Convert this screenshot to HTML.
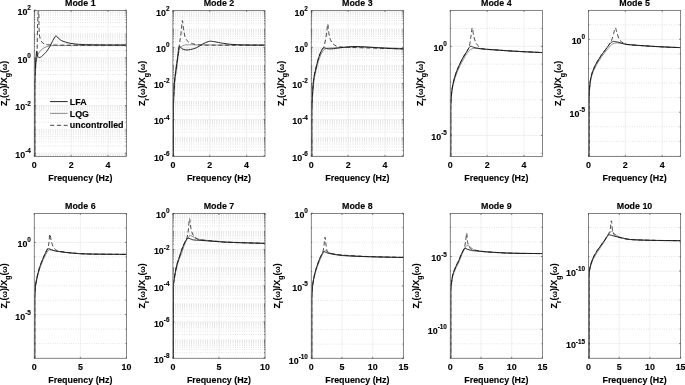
<!DOCTYPE html><html><head><meta charset="utf-8"><style>html,body{margin:0;padding:0;background:#fff;overflow:hidden;width:685px;height:385px;}svg{display:block;}text{font-family:"Liberation Sans", Arial, Helvetica, sans-serif;font-weight:bold;fill:#000;stroke:#000;stroke-width:0.12px;}</style></head><body>
<svg width="685" height="385" viewBox="0 0 685 385">
<rect width="685" height="385" fill="#fff"/>
<defs>
<clipPath id="c1"><rect x="34.30" y="10.40" width="92.10" height="146.00"/></clipPath>
<clipPath id="c2"><rect x="172.90" y="10.40" width="92.10" height="146.00"/></clipPath>
<clipPath id="c3"><rect x="311.30" y="10.40" width="92.10" height="146.00"/></clipPath>
<clipPath id="c4"><rect x="450.30" y="10.40" width="92.10" height="146.00"/></clipPath>
<clipPath id="c5"><rect x="588.50" y="10.40" width="92.10" height="146.00"/></clipPath>
<clipPath id="c6"><rect x="34.30" y="213.50" width="92.10" height="144.80"/></clipPath>
<clipPath id="c7"><rect x="172.90" y="213.50" width="92.10" height="144.80"/></clipPath>
<clipPath id="c8"><rect x="311.30" y="213.50" width="92.10" height="144.80"/></clipPath>
<clipPath id="c9"><rect x="450.30" y="213.50" width="92.10" height="144.80"/></clipPath>
<clipPath id="c10"><rect x="588.50" y="213.50" width="92.10" height="144.80"/></clipPath>
</defs>
<g><line x1="34.30" x2="126.40" y1="155.51" y2="155.51" stroke="#a8a8a8" stroke-width="0.5" stroke-dasharray="0.6,1.7"/><line x1="34.30" x2="126.40" y1="154.29" y2="154.29" stroke="#a8a8a8" stroke-width="0.5" stroke-dasharray="0.6,1.7"/><line x1="34.30" x2="126.40" y1="146.02" y2="146.02" stroke="#a8a8a8" stroke-width="0.5" stroke-dasharray="0.6,1.7"/><line x1="34.30" x2="126.40" y1="141.82" y2="141.82" stroke="#a8a8a8" stroke-width="0.5" stroke-dasharray="0.6,1.7"/><line x1="34.30" x2="126.40" y1="138.84" y2="138.84" stroke="#a8a8a8" stroke-width="0.5" stroke-dasharray="0.6,1.7"/><line x1="34.30" x2="126.40" y1="136.53" y2="136.53" stroke="#a8a8a8" stroke-width="0.5" stroke-dasharray="0.6,1.7"/><line x1="34.30" x2="126.40" y1="134.64" y2="134.64" stroke="#a8a8a8" stroke-width="0.5" stroke-dasharray="0.6,1.7"/><line x1="34.30" x2="126.40" y1="133.04" y2="133.04" stroke="#a8a8a8" stroke-width="0.5" stroke-dasharray="0.6,1.7"/><line x1="34.30" x2="126.40" y1="131.66" y2="131.66" stroke="#a8a8a8" stroke-width="0.5" stroke-dasharray="0.6,1.7"/><line x1="34.30" x2="126.40" y1="130.44" y2="130.44" stroke="#a8a8a8" stroke-width="0.5" stroke-dasharray="0.6,1.7"/><line x1="34.30" x2="126.40" y1="129.35" y2="129.35" stroke="#a8a8a8" stroke-width="0.5" stroke-dasharray="0.6,1.7"/><line x1="34.30" x2="126.40" y1="122.17" y2="122.17" stroke="#a8a8a8" stroke-width="0.5" stroke-dasharray="0.6,1.7"/><line x1="34.30" x2="126.40" y1="117.97" y2="117.97" stroke="#a8a8a8" stroke-width="0.5" stroke-dasharray="0.6,1.7"/><line x1="34.30" x2="126.40" y1="114.99" y2="114.99" stroke="#a8a8a8" stroke-width="0.5" stroke-dasharray="0.6,1.7"/><line x1="34.30" x2="126.40" y1="112.68" y2="112.68" stroke="#a8a8a8" stroke-width="0.5" stroke-dasharray="0.6,1.7"/><line x1="34.30" x2="126.40" y1="110.79" y2="110.79" stroke="#a8a8a8" stroke-width="0.5" stroke-dasharray="0.6,1.7"/><line x1="34.30" x2="126.40" y1="109.19" y2="109.19" stroke="#a8a8a8" stroke-width="0.5" stroke-dasharray="0.6,1.7"/><line x1="34.30" x2="126.40" y1="107.81" y2="107.81" stroke="#a8a8a8" stroke-width="0.5" stroke-dasharray="0.6,1.7"/><line x1="34.30" x2="126.40" y1="106.59" y2="106.59" stroke="#a8a8a8" stroke-width="0.5" stroke-dasharray="0.6,1.7"/><line x1="34.30" x2="126.40" y1="98.32" y2="98.32" stroke="#a8a8a8" stroke-width="0.5" stroke-dasharray="0.6,1.7"/><line x1="34.30" x2="126.40" y1="94.12" y2="94.12" stroke="#a8a8a8" stroke-width="0.5" stroke-dasharray="0.6,1.7"/><line x1="34.30" x2="126.40" y1="91.14" y2="91.14" stroke="#a8a8a8" stroke-width="0.5" stroke-dasharray="0.6,1.7"/><line x1="34.30" x2="126.40" y1="88.83" y2="88.83" stroke="#a8a8a8" stroke-width="0.5" stroke-dasharray="0.6,1.7"/><line x1="34.30" x2="126.40" y1="86.94" y2="86.94" stroke="#a8a8a8" stroke-width="0.5" stroke-dasharray="0.6,1.7"/><line x1="34.30" x2="126.40" y1="85.34" y2="85.34" stroke="#a8a8a8" stroke-width="0.5" stroke-dasharray="0.6,1.7"/><line x1="34.30" x2="126.40" y1="83.96" y2="83.96" stroke="#a8a8a8" stroke-width="0.5" stroke-dasharray="0.6,1.7"/><line x1="34.30" x2="126.40" y1="82.74" y2="82.74" stroke="#a8a8a8" stroke-width="0.5" stroke-dasharray="0.6,1.7"/><line x1="34.30" x2="126.40" y1="81.65" y2="81.65" stroke="#a8a8a8" stroke-width="0.5" stroke-dasharray="0.6,1.7"/><line x1="34.30" x2="126.40" y1="74.47" y2="74.47" stroke="#a8a8a8" stroke-width="0.5" stroke-dasharray="0.6,1.7"/><line x1="34.30" x2="126.40" y1="70.27" y2="70.27" stroke="#a8a8a8" stroke-width="0.5" stroke-dasharray="0.6,1.7"/><line x1="34.30" x2="126.40" y1="67.29" y2="67.29" stroke="#a8a8a8" stroke-width="0.5" stroke-dasharray="0.6,1.7"/><line x1="34.30" x2="126.40" y1="64.98" y2="64.98" stroke="#a8a8a8" stroke-width="0.5" stroke-dasharray="0.6,1.7"/><line x1="34.30" x2="126.40" y1="63.09" y2="63.09" stroke="#a8a8a8" stroke-width="0.5" stroke-dasharray="0.6,1.7"/><line x1="34.30" x2="126.40" y1="61.49" y2="61.49" stroke="#a8a8a8" stroke-width="0.5" stroke-dasharray="0.6,1.7"/><line x1="34.30" x2="126.40" y1="60.11" y2="60.11" stroke="#a8a8a8" stroke-width="0.5" stroke-dasharray="0.6,1.7"/><line x1="34.30" x2="126.40" y1="58.89" y2="58.89" stroke="#a8a8a8" stroke-width="0.5" stroke-dasharray="0.6,1.7"/><line x1="34.30" x2="126.40" y1="50.62" y2="50.62" stroke="#a8a8a8" stroke-width="0.5" stroke-dasharray="0.6,1.7"/><line x1="34.30" x2="126.40" y1="46.42" y2="46.42" stroke="#a8a8a8" stroke-width="0.5" stroke-dasharray="0.6,1.7"/><line x1="34.30" x2="126.40" y1="43.44" y2="43.44" stroke="#a8a8a8" stroke-width="0.5" stroke-dasharray="0.6,1.7"/><line x1="34.30" x2="126.40" y1="41.13" y2="41.13" stroke="#a8a8a8" stroke-width="0.5" stroke-dasharray="0.6,1.7"/><line x1="34.30" x2="126.40" y1="39.24" y2="39.24" stroke="#a8a8a8" stroke-width="0.5" stroke-dasharray="0.6,1.7"/><line x1="34.30" x2="126.40" y1="37.64" y2="37.64" stroke="#a8a8a8" stroke-width="0.5" stroke-dasharray="0.6,1.7"/><line x1="34.30" x2="126.40" y1="36.26" y2="36.26" stroke="#a8a8a8" stroke-width="0.5" stroke-dasharray="0.6,1.7"/><line x1="34.30" x2="126.40" y1="35.04" y2="35.04" stroke="#a8a8a8" stroke-width="0.5" stroke-dasharray="0.6,1.7"/><line x1="34.30" x2="126.40" y1="33.95" y2="33.95" stroke="#a8a8a8" stroke-width="0.5" stroke-dasharray="0.6,1.7"/><line x1="34.30" x2="126.40" y1="26.77" y2="26.77" stroke="#a8a8a8" stroke-width="0.5" stroke-dasharray="0.6,1.7"/><line x1="34.30" x2="126.40" y1="22.57" y2="22.57" stroke="#a8a8a8" stroke-width="0.5" stroke-dasharray="0.6,1.7"/><line x1="34.30" x2="126.40" y1="19.59" y2="19.59" stroke="#a8a8a8" stroke-width="0.5" stroke-dasharray="0.6,1.7"/><line x1="34.30" x2="126.40" y1="17.28" y2="17.28" stroke="#a8a8a8" stroke-width="0.5" stroke-dasharray="0.6,1.7"/><line x1="34.30" x2="126.40" y1="15.39" y2="15.39" stroke="#a8a8a8" stroke-width="0.5" stroke-dasharray="0.6,1.7"/><line x1="34.30" x2="126.40" y1="13.79" y2="13.79" stroke="#a8a8a8" stroke-width="0.5" stroke-dasharray="0.6,1.7"/><line x1="34.30" x2="126.40" y1="12.41" y2="12.41" stroke="#a8a8a8" stroke-width="0.5" stroke-dasharray="0.6,1.7"/><line x1="34.30" x2="126.40" y1="11.19" y2="11.19" stroke="#a8a8a8" stroke-width="0.5" stroke-dasharray="0.6,1.7"/><line x1="34.30" x2="126.40" y1="153.20" y2="153.20" stroke="#e6e6e6" stroke-width="0.6"/><line x1="34.30" x2="126.40" y1="105.50" y2="105.50" stroke="#e6e6e6" stroke-width="0.6"/><line x1="34.30" x2="126.40" y1="57.80" y2="57.80" stroke="#e6e6e6" stroke-width="0.6"/><line x1="71.14" x2="71.14" y1="10.40" y2="156.40" stroke="#e6e6e6" stroke-width="0.6"/><line x1="107.98" x2="107.98" y1="10.40" y2="156.40" stroke="#e6e6e6" stroke-width="0.6"/></g>
<g clip-path="url(#c1)"><path d="M34.75,157.40 C34.75,157.17 34.75,157.23 34.75,156.00 C34.75,154.77 34.75,152.00 34.75,150.00 C34.75,148.00 34.75,146.00 34.75,144.00 C34.75,142.00 34.75,140.00 34.75,138.00 C34.75,136.00 34.75,134.00 34.75,132.00 C34.75,130.00 34.75,128.00 34.75,126.00 C34.75,124.00 34.75,122.00 34.75,120.00 C34.75,118.00 34.75,116.00 34.75,114.00 C34.75,112.00 34.75,110.00 34.75,108.00 C34.75,106.00 34.75,104.00 34.75,102.00 C34.75,100.00 34.75,98.00 34.75,96.00 C34.75,94.00 34.73,92.00 34.75,90.00 C34.77,88.00 34.80,86.00 34.85,84.00 C34.90,82.00 34.99,80.00 35.08,78.00 C35.17,76.00 35.27,74.00 35.40,72.00 C35.53,70.00 35.67,68.00 35.86,66.00 C36.04,64.00 36.28,61.50 36.50,60.00 C36.72,58.50 36.92,57.98 37.20,57.00 C37.48,56.02 37.62,55.20 38.20,54.10 C38.78,53.00 39.73,51.43 40.70,50.40 C41.67,49.37 42.90,48.53 44.00,47.90 C45.10,47.27 46.20,46.95 47.30,46.60 C48.40,46.25 49.35,46.00 50.60,45.80 C51.85,45.60 51.57,45.47 54.80,45.40 C58.03,45.33 58.07,45.40 70.00,45.40 C81.93,45.40 117.00,45.40 126.40,45.40" fill="none" stroke="#6a6a6a" stroke-width="0.75"/><path d="M34.75,157.40 C34.75,157.00 34.75,156.57 34.75,155.00 C34.75,153.43 34.75,150.33 34.75,148.00 C34.75,145.67 34.75,143.33 34.75,141.00 C34.75,138.67 34.75,136.33 34.75,134.00 C34.75,131.67 34.75,129.33 34.75,127.00 C34.75,124.67 34.75,122.33 34.75,120.00 C34.75,117.67 34.75,115.33 34.75,113.00 C34.75,110.67 34.75,108.33 34.75,106.00 C34.75,103.67 34.75,101.33 34.75,99.00 C34.75,96.67 34.74,94.33 34.75,92.00 C34.76,89.67 34.75,87.33 34.79,85.00 C34.84,82.67 34.92,80.33 35.00,78.00 C35.08,75.67 35.17,73.33 35.29,71.00 C35.41,68.67 35.54,66.33 35.70,64.00 C35.86,61.67 36.05,59.33 36.28,57.00 C36.51,54.67 36.93,52.83 37.10,50.00 C37.27,47.17 37.22,44.17 37.30,40.00 C37.38,35.83 37.48,29.33 37.60,25.00 C37.72,20.67 37.87,16.33 38.00,14.00 C38.13,11.67 38.27,11.00 38.40,11.00 C38.53,11.00 38.70,11.67 38.80,14.00 C38.90,16.33 38.92,21.67 39.00,25.00 C39.08,28.33 39.05,31.58 39.30,34.00 C39.55,36.42 40.00,38.08 40.50,39.50 C41.00,40.92 41.58,41.73 42.30,42.50 C43.02,43.27 43.90,43.72 44.80,44.10 C45.70,44.48 46.03,44.65 47.70,44.80 C49.37,44.95 52.08,44.93 54.80,45.00 C57.52,45.07 52.07,45.18 64.00,45.20 C75.93,45.22 116.00,45.12 126.40,45.10" fill="none" stroke="#262626" stroke-width="0.85" stroke-dasharray="4.2,2.6"/><path d="M34.75,157.40 C34.75,156.83 34.75,155.57 34.75,154.00 C34.75,152.43 34.75,150.00 34.75,148.00 C34.75,146.00 34.75,144.00 34.75,142.00 C34.75,140.00 34.75,138.00 34.75,136.00 C34.75,134.00 34.75,132.00 34.75,130.00 C34.75,128.00 34.75,126.00 34.75,124.00 C34.75,122.00 34.75,120.00 34.75,118.00 C34.75,116.00 34.75,114.00 34.75,112.00 C34.75,110.00 34.75,108.00 34.75,106.00 C34.75,104.00 34.75,102.00 34.75,100.00 C34.75,98.00 34.75,96.00 34.75,94.00 C34.75,92.00 34.75,90.00 34.75,88.00 C34.75,86.00 34.72,84.00 34.75,82.00 C34.78,80.00 34.83,78.00 34.90,76.00 C34.97,74.00 35.05,72.00 35.15,70.00 C35.25,68.00 35.36,66.00 35.50,64.00 C35.64,62.00 35.85,59.83 36.00,58.00 C36.15,56.17 36.27,54.17 36.40,53.00 C36.53,51.83 36.67,51.00 36.80,51.00 C36.93,51.00 37.05,52.08 37.20,53.00 C37.35,53.92 37.40,55.77 37.70,56.50 C38.00,57.23 38.53,57.27 39.00,57.40 C39.47,57.53 39.95,57.57 40.50,57.30 C41.05,57.03 41.63,56.38 42.30,55.80 C42.97,55.22 43.80,54.50 44.50,53.80 C45.20,53.10 45.62,52.80 46.50,51.60 C47.38,50.40 48.83,48.27 49.80,46.60 C50.77,44.93 51.47,43.18 52.30,41.60 C53.13,40.02 54.22,38.03 54.80,37.10 C55.38,36.17 55.47,36.12 55.80,36.00 C56.13,35.88 56.42,36.08 56.80,36.40 C57.18,36.72 57.47,37.30 58.10,37.90 C58.73,38.50 59.62,39.38 60.60,40.00 C61.58,40.62 62.28,41.03 64.00,41.60 C65.72,42.17 67.93,42.92 70.90,43.40 C73.87,43.88 76.95,44.25 81.80,44.50 C86.65,44.75 92.57,44.82 100.00,44.90 C107.43,44.98 122.00,44.98 126.40,45.00" fill="none" stroke="#1a1a1a" stroke-width="0.95"/></g>
<rect x="34.30" y="10.40" width="92.10" height="146.00" stroke="#6e6e6e" stroke-width="0.85" fill="none"/>
<path d="M34.30,156.40v-1.50 M34.30,10.40v1.50 M71.14,156.40v-1.50 M71.14,10.40v1.50 M107.98,156.40v-1.50 M107.98,10.40v1.50 M34.30,153.20h1.50 M126.40,153.20h-1.50 M34.30,105.50h1.50 M126.40,105.50h-1.50 M34.30,57.80h1.50 M126.40,57.80h-1.50 M34.30,10.10h1.50 M126.40,10.10h-1.50 M34.30,155.51h0.90 M126.40,155.51h-0.90 M34.30,154.29h0.90 M126.40,154.29h-0.90 M34.30,146.02h0.90 M126.40,146.02h-0.90 M34.30,141.82h0.90 M126.40,141.82h-0.90 M34.30,138.84h0.90 M126.40,138.84h-0.90 M34.30,136.53h0.90 M126.40,136.53h-0.90 M34.30,134.64h0.90 M126.40,134.64h-0.90 M34.30,133.04h0.90 M126.40,133.04h-0.90 M34.30,131.66h0.90 M126.40,131.66h-0.90 M34.30,130.44h0.90 M126.40,130.44h-0.90 M34.30,129.35h0.90 M126.40,129.35h-0.90 M34.30,122.17h0.90 M126.40,122.17h-0.90 M34.30,117.97h0.90 M126.40,117.97h-0.90 M34.30,114.99h0.90 M126.40,114.99h-0.90 M34.30,112.68h0.90 M126.40,112.68h-0.90 M34.30,110.79h0.90 M126.40,110.79h-0.90 M34.30,109.19h0.90 M126.40,109.19h-0.90 M34.30,107.81h0.90 M126.40,107.81h-0.90 M34.30,106.59h0.90 M126.40,106.59h-0.90 M34.30,98.32h0.90 M126.40,98.32h-0.90 M34.30,94.12h0.90 M126.40,94.12h-0.90 M34.30,91.14h0.90 M126.40,91.14h-0.90 M34.30,88.83h0.90 M126.40,88.83h-0.90 M34.30,86.94h0.90 M126.40,86.94h-0.90 M34.30,85.34h0.90 M126.40,85.34h-0.90 M34.30,83.96h0.90 M126.40,83.96h-0.90 M34.30,82.74h0.90 M126.40,82.74h-0.90 M34.30,81.65h0.90 M126.40,81.65h-0.90 M34.30,74.47h0.90 M126.40,74.47h-0.90 M34.30,70.27h0.90 M126.40,70.27h-0.90 M34.30,67.29h0.90 M126.40,67.29h-0.90 M34.30,64.98h0.90 M126.40,64.98h-0.90 M34.30,63.09h0.90 M126.40,63.09h-0.90 M34.30,61.49h0.90 M126.40,61.49h-0.90 M34.30,60.11h0.90 M126.40,60.11h-0.90 M34.30,58.89h0.90 M126.40,58.89h-0.90 M34.30,50.62h0.90 M126.40,50.62h-0.90 M34.30,46.42h0.90 M126.40,46.42h-0.90 M34.30,43.44h0.90 M126.40,43.44h-0.90 M34.30,41.13h0.90 M126.40,41.13h-0.90 M34.30,39.24h0.90 M126.40,39.24h-0.90 M34.30,37.64h0.90 M126.40,37.64h-0.90 M34.30,36.26h0.90 M126.40,36.26h-0.90 M34.30,35.04h0.90 M126.40,35.04h-0.90 M34.30,33.95h0.90 M126.40,33.95h-0.90 M34.30,26.77h0.90 M126.40,26.77h-0.90 M34.30,22.57h0.90 M126.40,22.57h-0.90 M34.30,19.59h0.90 M126.40,19.59h-0.90 M34.30,17.28h0.90 M126.40,17.28h-0.90 M34.30,15.39h0.90 M126.40,15.39h-0.90 M34.30,13.79h0.90 M126.40,13.79h-0.90 M34.30,12.41h0.90 M126.40,12.41h-0.90 M34.30,11.19h0.90 M126.40,11.19h-0.90" stroke="#333" stroke-width="0.6" fill="none"/>
<text x="34.30" y="168.35" text-anchor="middle" font-size="8.90">0</text>
<text x="71.14" y="168.35" text-anchor="middle" font-size="8.90">2</text>
<text x="107.98" y="168.35" text-anchor="middle" font-size="8.90">4</text>
<text x="30.90" y="158.05" text-anchor="end" font-size="8.90">10<tspan font-size="6.40" dy="-4.8">-4</tspan></text>
<text x="30.90" y="110.35" text-anchor="end" font-size="8.90">10<tspan font-size="6.40" dy="-4.8">-2</tspan></text>
<text x="30.90" y="62.65" text-anchor="end" font-size="8.90">10<tspan font-size="6.40" dy="-4.8">0</tspan></text>
<text x="30.90" y="14.95" text-anchor="end" font-size="8.90">10<tspan font-size="6.40" dy="-4.8">2</tspan></text>
<text x="80.35" y="6.10" text-anchor="middle" font-size="8.90">Mode 1</text>
<text x="80.35" y="180.90" text-anchor="middle" font-size="8.90">Frequency (Hz)</text>
<text transform="translate(6.80,83.40) rotate(-90)" text-anchor="middle" font-size="8.90">Z<tspan font-size="6.80" dy="3.6">r</tspan><tspan dy="-3.6">(</tspan><tspan font-size="7.6">ω</tspan>)/X<tspan font-size="6.80" dy="3.6">g</tspan><tspan dy="-3.6">(</tspan><tspan font-size="7.6">ω</tspan>)</text>
<g><line x1="172.90" x2="265.00" y1="150.28" y2="150.28" stroke="#a8a8a8" stroke-width="0.5" stroke-dasharray="0.6,1.7"/><line x1="172.90" x2="265.00" y1="147.10" y2="147.10" stroke="#a8a8a8" stroke-width="0.5" stroke-dasharray="0.6,1.7"/><line x1="172.90" x2="265.00" y1="144.84" y2="144.84" stroke="#a8a8a8" stroke-width="0.5" stroke-dasharray="0.6,1.7"/><line x1="172.90" x2="265.00" y1="143.09" y2="143.09" stroke="#a8a8a8" stroke-width="0.5" stroke-dasharray="0.6,1.7"/><line x1="172.90" x2="265.00" y1="141.66" y2="141.66" stroke="#a8a8a8" stroke-width="0.5" stroke-dasharray="0.6,1.7"/><line x1="172.90" x2="265.00" y1="140.45" y2="140.45" stroke="#a8a8a8" stroke-width="0.5" stroke-dasharray="0.6,1.7"/><line x1="172.90" x2="265.00" y1="139.40" y2="139.40" stroke="#a8a8a8" stroke-width="0.5" stroke-dasharray="0.6,1.7"/><line x1="172.90" x2="265.00" y1="138.48" y2="138.48" stroke="#a8a8a8" stroke-width="0.5" stroke-dasharray="0.6,1.7"/><line x1="172.90" x2="265.00" y1="137.65" y2="137.65" stroke="#a8a8a8" stroke-width="0.5" stroke-dasharray="0.6,1.7"/><line x1="172.90" x2="265.00" y1="132.21" y2="132.21" stroke="#a8a8a8" stroke-width="0.5" stroke-dasharray="0.6,1.7"/><line x1="172.90" x2="265.00" y1="129.03" y2="129.03" stroke="#a8a8a8" stroke-width="0.5" stroke-dasharray="0.6,1.7"/><line x1="172.90" x2="265.00" y1="126.77" y2="126.77" stroke="#a8a8a8" stroke-width="0.5" stroke-dasharray="0.6,1.7"/><line x1="172.90" x2="265.00" y1="125.02" y2="125.02" stroke="#a8a8a8" stroke-width="0.5" stroke-dasharray="0.6,1.7"/><line x1="172.90" x2="265.00" y1="123.59" y2="123.59" stroke="#a8a8a8" stroke-width="0.5" stroke-dasharray="0.6,1.7"/><line x1="172.90" x2="265.00" y1="122.38" y2="122.38" stroke="#a8a8a8" stroke-width="0.5" stroke-dasharray="0.6,1.7"/><line x1="172.90" x2="265.00" y1="121.33" y2="121.33" stroke="#a8a8a8" stroke-width="0.5" stroke-dasharray="0.6,1.7"/><line x1="172.90" x2="265.00" y1="120.41" y2="120.41" stroke="#a8a8a8" stroke-width="0.5" stroke-dasharray="0.6,1.7"/><line x1="172.90" x2="265.00" y1="114.14" y2="114.14" stroke="#a8a8a8" stroke-width="0.5" stroke-dasharray="0.6,1.7"/><line x1="172.90" x2="265.00" y1="110.96" y2="110.96" stroke="#a8a8a8" stroke-width="0.5" stroke-dasharray="0.6,1.7"/><line x1="172.90" x2="265.00" y1="108.70" y2="108.70" stroke="#a8a8a8" stroke-width="0.5" stroke-dasharray="0.6,1.7"/><line x1="172.90" x2="265.00" y1="106.95" y2="106.95" stroke="#a8a8a8" stroke-width="0.5" stroke-dasharray="0.6,1.7"/><line x1="172.90" x2="265.00" y1="105.52" y2="105.52" stroke="#a8a8a8" stroke-width="0.5" stroke-dasharray="0.6,1.7"/><line x1="172.90" x2="265.00" y1="104.31" y2="104.31" stroke="#a8a8a8" stroke-width="0.5" stroke-dasharray="0.6,1.7"/><line x1="172.90" x2="265.00" y1="103.26" y2="103.26" stroke="#a8a8a8" stroke-width="0.5" stroke-dasharray="0.6,1.7"/><line x1="172.90" x2="265.00" y1="102.34" y2="102.34" stroke="#a8a8a8" stroke-width="0.5" stroke-dasharray="0.6,1.7"/><line x1="172.90" x2="265.00" y1="101.51" y2="101.51" stroke="#a8a8a8" stroke-width="0.5" stroke-dasharray="0.6,1.7"/><line x1="172.90" x2="265.00" y1="96.07" y2="96.07" stroke="#a8a8a8" stroke-width="0.5" stroke-dasharray="0.6,1.7"/><line x1="172.90" x2="265.00" y1="92.89" y2="92.89" stroke="#a8a8a8" stroke-width="0.5" stroke-dasharray="0.6,1.7"/><line x1="172.90" x2="265.00" y1="90.63" y2="90.63" stroke="#a8a8a8" stroke-width="0.5" stroke-dasharray="0.6,1.7"/><line x1="172.90" x2="265.00" y1="88.88" y2="88.88" stroke="#a8a8a8" stroke-width="0.5" stroke-dasharray="0.6,1.7"/><line x1="172.90" x2="265.00" y1="87.45" y2="87.45" stroke="#a8a8a8" stroke-width="0.5" stroke-dasharray="0.6,1.7"/><line x1="172.90" x2="265.00" y1="86.24" y2="86.24" stroke="#a8a8a8" stroke-width="0.5" stroke-dasharray="0.6,1.7"/><line x1="172.90" x2="265.00" y1="85.19" y2="85.19" stroke="#a8a8a8" stroke-width="0.5" stroke-dasharray="0.6,1.7"/><line x1="172.90" x2="265.00" y1="84.27" y2="84.27" stroke="#a8a8a8" stroke-width="0.5" stroke-dasharray="0.6,1.7"/><line x1="172.90" x2="265.00" y1="78.00" y2="78.00" stroke="#a8a8a8" stroke-width="0.5" stroke-dasharray="0.6,1.7"/><line x1="172.90" x2="265.00" y1="74.82" y2="74.82" stroke="#a8a8a8" stroke-width="0.5" stroke-dasharray="0.6,1.7"/><line x1="172.90" x2="265.00" y1="72.56" y2="72.56" stroke="#a8a8a8" stroke-width="0.5" stroke-dasharray="0.6,1.7"/><line x1="172.90" x2="265.00" y1="70.81" y2="70.81" stroke="#a8a8a8" stroke-width="0.5" stroke-dasharray="0.6,1.7"/><line x1="172.90" x2="265.00" y1="69.38" y2="69.38" stroke="#a8a8a8" stroke-width="0.5" stroke-dasharray="0.6,1.7"/><line x1="172.90" x2="265.00" y1="68.17" y2="68.17" stroke="#a8a8a8" stroke-width="0.5" stroke-dasharray="0.6,1.7"/><line x1="172.90" x2="265.00" y1="67.12" y2="67.12" stroke="#a8a8a8" stroke-width="0.5" stroke-dasharray="0.6,1.7"/><line x1="172.90" x2="265.00" y1="66.20" y2="66.20" stroke="#a8a8a8" stroke-width="0.5" stroke-dasharray="0.6,1.7"/><line x1="172.90" x2="265.00" y1="65.37" y2="65.37" stroke="#a8a8a8" stroke-width="0.5" stroke-dasharray="0.6,1.7"/><line x1="172.90" x2="265.00" y1="59.93" y2="59.93" stroke="#a8a8a8" stroke-width="0.5" stroke-dasharray="0.6,1.7"/><line x1="172.90" x2="265.00" y1="56.75" y2="56.75" stroke="#a8a8a8" stroke-width="0.5" stroke-dasharray="0.6,1.7"/><line x1="172.90" x2="265.00" y1="54.49" y2="54.49" stroke="#a8a8a8" stroke-width="0.5" stroke-dasharray="0.6,1.7"/><line x1="172.90" x2="265.00" y1="52.74" y2="52.74" stroke="#a8a8a8" stroke-width="0.5" stroke-dasharray="0.6,1.7"/><line x1="172.90" x2="265.00" y1="51.31" y2="51.31" stroke="#a8a8a8" stroke-width="0.5" stroke-dasharray="0.6,1.7"/><line x1="172.90" x2="265.00" y1="50.10" y2="50.10" stroke="#a8a8a8" stroke-width="0.5" stroke-dasharray="0.6,1.7"/><line x1="172.90" x2="265.00" y1="49.05" y2="49.05" stroke="#a8a8a8" stroke-width="0.5" stroke-dasharray="0.6,1.7"/><line x1="172.90" x2="265.00" y1="48.13" y2="48.13" stroke="#a8a8a8" stroke-width="0.5" stroke-dasharray="0.6,1.7"/><line x1="172.90" x2="265.00" y1="41.86" y2="41.86" stroke="#a8a8a8" stroke-width="0.5" stroke-dasharray="0.6,1.7"/><line x1="172.90" x2="265.00" y1="38.68" y2="38.68" stroke="#a8a8a8" stroke-width="0.5" stroke-dasharray="0.6,1.7"/><line x1="172.90" x2="265.00" y1="36.42" y2="36.42" stroke="#a8a8a8" stroke-width="0.5" stroke-dasharray="0.6,1.7"/><line x1="172.90" x2="265.00" y1="34.67" y2="34.67" stroke="#a8a8a8" stroke-width="0.5" stroke-dasharray="0.6,1.7"/><line x1="172.90" x2="265.00" y1="33.24" y2="33.24" stroke="#a8a8a8" stroke-width="0.5" stroke-dasharray="0.6,1.7"/><line x1="172.90" x2="265.00" y1="32.03" y2="32.03" stroke="#a8a8a8" stroke-width="0.5" stroke-dasharray="0.6,1.7"/><line x1="172.90" x2="265.00" y1="30.98" y2="30.98" stroke="#a8a8a8" stroke-width="0.5" stroke-dasharray="0.6,1.7"/><line x1="172.90" x2="265.00" y1="30.06" y2="30.06" stroke="#a8a8a8" stroke-width="0.5" stroke-dasharray="0.6,1.7"/><line x1="172.90" x2="265.00" y1="29.23" y2="29.23" stroke="#a8a8a8" stroke-width="0.5" stroke-dasharray="0.6,1.7"/><line x1="172.90" x2="265.00" y1="23.79" y2="23.79" stroke="#a8a8a8" stroke-width="0.5" stroke-dasharray="0.6,1.7"/><line x1="172.90" x2="265.00" y1="20.61" y2="20.61" stroke="#a8a8a8" stroke-width="0.5" stroke-dasharray="0.6,1.7"/><line x1="172.90" x2="265.00" y1="18.35" y2="18.35" stroke="#a8a8a8" stroke-width="0.5" stroke-dasharray="0.6,1.7"/><line x1="172.90" x2="265.00" y1="16.60" y2="16.60" stroke="#a8a8a8" stroke-width="0.5" stroke-dasharray="0.6,1.7"/><line x1="172.90" x2="265.00" y1="15.17" y2="15.17" stroke="#a8a8a8" stroke-width="0.5" stroke-dasharray="0.6,1.7"/><line x1="172.90" x2="265.00" y1="13.96" y2="13.96" stroke="#a8a8a8" stroke-width="0.5" stroke-dasharray="0.6,1.7"/><line x1="172.90" x2="265.00" y1="12.91" y2="12.91" stroke="#a8a8a8" stroke-width="0.5" stroke-dasharray="0.6,1.7"/><line x1="172.90" x2="265.00" y1="11.99" y2="11.99" stroke="#a8a8a8" stroke-width="0.5" stroke-dasharray="0.6,1.7"/><line x1="172.90" x2="265.00" y1="155.72" y2="155.72" stroke="#e6e6e6" stroke-width="0.6"/><line x1="172.90" x2="265.00" y1="119.58" y2="119.58" stroke="#e6e6e6" stroke-width="0.6"/><line x1="172.90" x2="265.00" y1="83.44" y2="83.44" stroke="#e6e6e6" stroke-width="0.6"/><line x1="172.90" x2="265.00" y1="47.30" y2="47.30" stroke="#e6e6e6" stroke-width="0.6"/><line x1="172.90" x2="265.00" y1="11.16" y2="11.16" stroke="#e6e6e6" stroke-width="0.6"/><line x1="209.74" x2="209.74" y1="10.40" y2="156.40" stroke="#e6e6e6" stroke-width="0.6"/><line x1="246.58" x2="246.58" y1="10.40" y2="156.40" stroke="#e6e6e6" stroke-width="0.6"/></g>
<g clip-path="url(#c2)"><path d="M173.35,157.40 C173.35,156.17 173.35,152.40 173.35,150.00 C173.35,147.60 173.35,145.33 173.35,143.00 C173.35,140.67 173.35,138.33 173.35,136.00 C173.35,133.67 173.35,131.33 173.35,129.00 C173.35,126.67 173.35,124.33 173.35,122.00 C173.35,119.67 173.34,117.33 173.35,115.00 C173.36,112.67 173.38,110.33 173.43,108.00 C173.47,105.67 173.55,103.33 173.64,101.00 C173.73,98.67 173.83,96.33 173.95,94.00 C174.07,91.67 174.21,89.33 174.38,87.00 C174.56,84.67 174.61,83.17 175.00,80.00 C175.39,76.83 176.20,71.83 176.70,68.00 C177.20,64.17 177.52,60.25 178.00,57.00 C178.48,53.75 179.02,50.25 179.60,48.50 C180.18,46.75 180.82,47.02 181.50,46.50 C182.18,45.98 182.75,45.68 183.70,45.40 C184.65,45.12 184.48,44.88 187.20,44.80 C189.92,44.72 194.20,44.85 200.00,44.90 C205.80,44.95 211.08,45.05 222.00,45.10 C232.92,45.15 258.25,45.18 265.50,45.20" fill="none" stroke="#6a6a6a" stroke-width="0.75"/><path d="M173.35,157.40 C173.35,157.00 173.35,156.57 173.35,155.00 C173.35,153.43 173.35,150.33 173.35,148.00 C173.35,145.67 173.35,143.33 173.35,141.00 C173.35,138.67 173.35,136.33 173.35,134.00 C173.35,131.67 173.35,129.33 173.35,127.00 C173.35,124.67 173.35,122.33 173.35,120.00 C173.35,117.67 173.34,115.33 173.35,113.00 C173.36,110.67 173.38,108.33 173.43,106.00 C173.47,103.67 173.55,101.33 173.64,99.00 C173.73,96.67 173.83,94.33 173.95,92.00 C174.07,89.67 174.21,87.33 174.38,85.00 C174.56,82.67 174.63,81.17 175.00,78.00 C175.37,74.83 176.07,69.83 176.60,66.00 C177.13,62.17 177.70,58.83 178.20,55.00 C178.70,51.17 179.17,46.27 179.60,43.00 C180.03,39.73 180.42,38.52 180.80,35.40 C181.18,32.28 181.62,26.73 181.90,24.30 C182.18,21.87 182.20,19.82 182.50,20.80 C182.80,21.78 183.22,27.37 183.70,30.20 C184.18,33.03 184.62,35.85 185.40,37.80 C186.18,39.75 187.23,40.93 188.40,41.90 C189.57,42.87 190.85,43.12 192.40,43.60 C193.95,44.08 195.27,44.55 197.70,44.80 C200.13,45.05 201.62,45.03 207.00,45.10 C212.38,45.17 220.25,45.18 230.00,45.20 C239.75,45.22 259.58,45.20 265.50,45.20" fill="none" stroke="#262626" stroke-width="0.85" stroke-dasharray="4.2,2.6"/><path d="M173.35,157.40 C173.35,157.17 173.35,157.40 173.35,156.00 C173.35,154.60 173.35,151.33 173.35,149.00 C173.35,146.67 173.35,144.33 173.35,142.00 C173.35,139.67 173.35,137.33 173.35,135.00 C173.35,132.67 173.35,130.33 173.35,128.00 C173.35,125.67 173.35,123.33 173.35,121.00 C173.35,118.67 173.35,116.33 173.35,114.00 C173.35,111.67 173.32,109.33 173.35,107.00 C173.38,104.67 173.46,102.33 173.54,100.00 C173.61,97.67 173.69,95.33 173.80,93.00 C173.91,90.67 174.02,88.33 174.17,86.00 C174.32,83.67 174.35,82.23 174.70,79.00 C175.05,75.77 175.78,70.50 176.30,66.60 C176.82,62.70 177.42,58.53 177.80,55.60 C178.18,52.67 178.37,50.55 178.60,49.00 C178.83,47.45 178.88,46.60 179.20,46.30 C179.52,46.00 179.95,46.77 180.50,47.20 C181.05,47.63 181.58,48.43 182.50,48.90 C183.42,49.37 184.63,49.90 186.00,50.00 C187.37,50.10 188.95,49.88 190.70,49.50 C192.45,49.12 194.55,48.58 196.50,47.70 C198.45,46.82 200.45,45.22 202.40,44.20 C204.35,43.18 206.65,42.08 208.20,41.60 C209.75,41.12 209.95,41.15 211.70,41.30 C213.45,41.45 216.48,42.12 218.70,42.50 C220.92,42.88 222.28,43.25 225.00,43.60 C227.72,43.95 230.83,44.37 235.00,44.60 C239.17,44.83 244.92,44.92 250.00,45.00 C255.08,45.08 262.92,45.08 265.50,45.10" fill="none" stroke="#1a1a1a" stroke-width="0.95"/></g>
<rect x="172.90" y="10.40" width="92.10" height="146.00" stroke="#6e6e6e" stroke-width="0.85" fill="none"/>
<path d="M172.90,156.40v-1.50 M172.90,10.40v1.50 M209.74,156.40v-1.50 M209.74,10.40v1.50 M246.58,156.40v-1.50 M246.58,10.40v1.50 M172.90,155.72h1.50 M265.00,155.72h-1.50 M172.90,119.58h1.50 M265.00,119.58h-1.50 M172.90,83.44h1.50 M265.00,83.44h-1.50 M172.90,47.30h1.50 M265.00,47.30h-1.50 M172.90,11.16h1.50 M265.00,11.16h-1.50 M172.90,150.28h0.90 M265.00,150.28h-0.90 M172.90,147.10h0.90 M265.00,147.10h-0.90 M172.90,144.84h0.90 M265.00,144.84h-0.90 M172.90,143.09h0.90 M265.00,143.09h-0.90 M172.90,141.66h0.90 M265.00,141.66h-0.90 M172.90,140.45h0.90 M265.00,140.45h-0.90 M172.90,139.40h0.90 M265.00,139.40h-0.90 M172.90,138.48h0.90 M265.00,138.48h-0.90 M172.90,137.65h0.90 M265.00,137.65h-0.90 M172.90,132.21h0.90 M265.00,132.21h-0.90 M172.90,129.03h0.90 M265.00,129.03h-0.90 M172.90,126.77h0.90 M265.00,126.77h-0.90 M172.90,125.02h0.90 M265.00,125.02h-0.90 M172.90,123.59h0.90 M265.00,123.59h-0.90 M172.90,122.38h0.90 M265.00,122.38h-0.90 M172.90,121.33h0.90 M265.00,121.33h-0.90 M172.90,120.41h0.90 M265.00,120.41h-0.90 M172.90,114.14h0.90 M265.00,114.14h-0.90 M172.90,110.96h0.90 M265.00,110.96h-0.90 M172.90,108.70h0.90 M265.00,108.70h-0.90 M172.90,106.95h0.90 M265.00,106.95h-0.90 M172.90,105.52h0.90 M265.00,105.52h-0.90 M172.90,104.31h0.90 M265.00,104.31h-0.90 M172.90,103.26h0.90 M265.00,103.26h-0.90 M172.90,102.34h0.90 M265.00,102.34h-0.90 M172.90,101.51h0.90 M265.00,101.51h-0.90 M172.90,96.07h0.90 M265.00,96.07h-0.90 M172.90,92.89h0.90 M265.00,92.89h-0.90 M172.90,90.63h0.90 M265.00,90.63h-0.90 M172.90,88.88h0.90 M265.00,88.88h-0.90 M172.90,87.45h0.90 M265.00,87.45h-0.90 M172.90,86.24h0.90 M265.00,86.24h-0.90 M172.90,85.19h0.90 M265.00,85.19h-0.90 M172.90,84.27h0.90 M265.00,84.27h-0.90 M172.90,78.00h0.90 M265.00,78.00h-0.90 M172.90,74.82h0.90 M265.00,74.82h-0.90 M172.90,72.56h0.90 M265.00,72.56h-0.90 M172.90,70.81h0.90 M265.00,70.81h-0.90 M172.90,69.38h0.90 M265.00,69.38h-0.90 M172.90,68.17h0.90 M265.00,68.17h-0.90 M172.90,67.12h0.90 M265.00,67.12h-0.90 M172.90,66.20h0.90 M265.00,66.20h-0.90 M172.90,65.37h0.90 M265.00,65.37h-0.90 M172.90,59.93h0.90 M265.00,59.93h-0.90 M172.90,56.75h0.90 M265.00,56.75h-0.90 M172.90,54.49h0.90 M265.00,54.49h-0.90 M172.90,52.74h0.90 M265.00,52.74h-0.90 M172.90,51.31h0.90 M265.00,51.31h-0.90 M172.90,50.10h0.90 M265.00,50.10h-0.90 M172.90,49.05h0.90 M265.00,49.05h-0.90 M172.90,48.13h0.90 M265.00,48.13h-0.90 M172.90,41.86h0.90 M265.00,41.86h-0.90 M172.90,38.68h0.90 M265.00,38.68h-0.90 M172.90,36.42h0.90 M265.00,36.42h-0.90 M172.90,34.67h0.90 M265.00,34.67h-0.90 M172.90,33.24h0.90 M265.00,33.24h-0.90 M172.90,32.03h0.90 M265.00,32.03h-0.90 M172.90,30.98h0.90 M265.00,30.98h-0.90 M172.90,30.06h0.90 M265.00,30.06h-0.90 M172.90,29.23h0.90 M265.00,29.23h-0.90 M172.90,23.79h0.90 M265.00,23.79h-0.90 M172.90,20.61h0.90 M265.00,20.61h-0.90 M172.90,18.35h0.90 M265.00,18.35h-0.90 M172.90,16.60h0.90 M265.00,16.60h-0.90 M172.90,15.17h0.90 M265.00,15.17h-0.90 M172.90,13.96h0.90 M265.00,13.96h-0.90 M172.90,12.91h0.90 M265.00,12.91h-0.90 M172.90,11.99h0.90 M265.00,11.99h-0.90" stroke="#333" stroke-width="0.6" fill="none"/>
<text x="172.90" y="168.35" text-anchor="middle" font-size="8.90">0</text>
<text x="209.74" y="168.35" text-anchor="middle" font-size="8.90">2</text>
<text x="246.58" y="168.35" text-anchor="middle" font-size="8.90">4</text>
<text x="169.50" y="160.57" text-anchor="end" font-size="8.90">10<tspan font-size="6.40" dy="-4.8">-6</tspan></text>
<text x="169.50" y="124.43" text-anchor="end" font-size="8.90">10<tspan font-size="6.40" dy="-4.8">-4</tspan></text>
<text x="169.50" y="88.29" text-anchor="end" font-size="8.90">10<tspan font-size="6.40" dy="-4.8">-2</tspan></text>
<text x="169.50" y="52.15" text-anchor="end" font-size="8.90">10<tspan font-size="6.40" dy="-4.8">0</tspan></text>
<text x="169.50" y="16.01" text-anchor="end" font-size="8.90">10<tspan font-size="6.40" dy="-4.8">2</tspan></text>
<text x="218.95" y="6.10" text-anchor="middle" font-size="8.90">Mode 2</text>
<text x="218.95" y="180.90" text-anchor="middle" font-size="8.90">Frequency (Hz)</text>
<text transform="translate(145.40,83.40) rotate(-90)" text-anchor="middle" font-size="8.90">Z<tspan font-size="6.80" dy="3.6">r</tspan><tspan dy="-3.6">(</tspan><tspan font-size="7.6">ω</tspan>)/X<tspan font-size="6.80" dy="3.6">g</tspan><tspan dy="-3.6">(</tspan><tspan font-size="7.6">ω</tspan>)</text>
<g><line x1="311.30" x2="403.40" y1="150.28" y2="150.28" stroke="#a8a8a8" stroke-width="0.5" stroke-dasharray="0.6,1.7"/><line x1="311.30" x2="403.40" y1="147.10" y2="147.10" stroke="#a8a8a8" stroke-width="0.5" stroke-dasharray="0.6,1.7"/><line x1="311.30" x2="403.40" y1="144.84" y2="144.84" stroke="#a8a8a8" stroke-width="0.5" stroke-dasharray="0.6,1.7"/><line x1="311.30" x2="403.40" y1="143.09" y2="143.09" stroke="#a8a8a8" stroke-width="0.5" stroke-dasharray="0.6,1.7"/><line x1="311.30" x2="403.40" y1="141.66" y2="141.66" stroke="#a8a8a8" stroke-width="0.5" stroke-dasharray="0.6,1.7"/><line x1="311.30" x2="403.40" y1="140.45" y2="140.45" stroke="#a8a8a8" stroke-width="0.5" stroke-dasharray="0.6,1.7"/><line x1="311.30" x2="403.40" y1="139.40" y2="139.40" stroke="#a8a8a8" stroke-width="0.5" stroke-dasharray="0.6,1.7"/><line x1="311.30" x2="403.40" y1="138.48" y2="138.48" stroke="#a8a8a8" stroke-width="0.5" stroke-dasharray="0.6,1.7"/><line x1="311.30" x2="403.40" y1="137.65" y2="137.65" stroke="#a8a8a8" stroke-width="0.5" stroke-dasharray="0.6,1.7"/><line x1="311.30" x2="403.40" y1="132.21" y2="132.21" stroke="#a8a8a8" stroke-width="0.5" stroke-dasharray="0.6,1.7"/><line x1="311.30" x2="403.40" y1="129.03" y2="129.03" stroke="#a8a8a8" stroke-width="0.5" stroke-dasharray="0.6,1.7"/><line x1="311.30" x2="403.40" y1="126.77" y2="126.77" stroke="#a8a8a8" stroke-width="0.5" stroke-dasharray="0.6,1.7"/><line x1="311.30" x2="403.40" y1="125.02" y2="125.02" stroke="#a8a8a8" stroke-width="0.5" stroke-dasharray="0.6,1.7"/><line x1="311.30" x2="403.40" y1="123.59" y2="123.59" stroke="#a8a8a8" stroke-width="0.5" stroke-dasharray="0.6,1.7"/><line x1="311.30" x2="403.40" y1="122.38" y2="122.38" stroke="#a8a8a8" stroke-width="0.5" stroke-dasharray="0.6,1.7"/><line x1="311.30" x2="403.40" y1="121.33" y2="121.33" stroke="#a8a8a8" stroke-width="0.5" stroke-dasharray="0.6,1.7"/><line x1="311.30" x2="403.40" y1="120.41" y2="120.41" stroke="#a8a8a8" stroke-width="0.5" stroke-dasharray="0.6,1.7"/><line x1="311.30" x2="403.40" y1="114.14" y2="114.14" stroke="#a8a8a8" stroke-width="0.5" stroke-dasharray="0.6,1.7"/><line x1="311.30" x2="403.40" y1="110.96" y2="110.96" stroke="#a8a8a8" stroke-width="0.5" stroke-dasharray="0.6,1.7"/><line x1="311.30" x2="403.40" y1="108.70" y2="108.70" stroke="#a8a8a8" stroke-width="0.5" stroke-dasharray="0.6,1.7"/><line x1="311.30" x2="403.40" y1="106.95" y2="106.95" stroke="#a8a8a8" stroke-width="0.5" stroke-dasharray="0.6,1.7"/><line x1="311.30" x2="403.40" y1="105.52" y2="105.52" stroke="#a8a8a8" stroke-width="0.5" stroke-dasharray="0.6,1.7"/><line x1="311.30" x2="403.40" y1="104.31" y2="104.31" stroke="#a8a8a8" stroke-width="0.5" stroke-dasharray="0.6,1.7"/><line x1="311.30" x2="403.40" y1="103.26" y2="103.26" stroke="#a8a8a8" stroke-width="0.5" stroke-dasharray="0.6,1.7"/><line x1="311.30" x2="403.40" y1="102.34" y2="102.34" stroke="#a8a8a8" stroke-width="0.5" stroke-dasharray="0.6,1.7"/><line x1="311.30" x2="403.40" y1="101.51" y2="101.51" stroke="#a8a8a8" stroke-width="0.5" stroke-dasharray="0.6,1.7"/><line x1="311.30" x2="403.40" y1="96.07" y2="96.07" stroke="#a8a8a8" stroke-width="0.5" stroke-dasharray="0.6,1.7"/><line x1="311.30" x2="403.40" y1="92.89" y2="92.89" stroke="#a8a8a8" stroke-width="0.5" stroke-dasharray="0.6,1.7"/><line x1="311.30" x2="403.40" y1="90.63" y2="90.63" stroke="#a8a8a8" stroke-width="0.5" stroke-dasharray="0.6,1.7"/><line x1="311.30" x2="403.40" y1="88.88" y2="88.88" stroke="#a8a8a8" stroke-width="0.5" stroke-dasharray="0.6,1.7"/><line x1="311.30" x2="403.40" y1="87.45" y2="87.45" stroke="#a8a8a8" stroke-width="0.5" stroke-dasharray="0.6,1.7"/><line x1="311.30" x2="403.40" y1="86.24" y2="86.24" stroke="#a8a8a8" stroke-width="0.5" stroke-dasharray="0.6,1.7"/><line x1="311.30" x2="403.40" y1="85.19" y2="85.19" stroke="#a8a8a8" stroke-width="0.5" stroke-dasharray="0.6,1.7"/><line x1="311.30" x2="403.40" y1="84.27" y2="84.27" stroke="#a8a8a8" stroke-width="0.5" stroke-dasharray="0.6,1.7"/><line x1="311.30" x2="403.40" y1="78.00" y2="78.00" stroke="#a8a8a8" stroke-width="0.5" stroke-dasharray="0.6,1.7"/><line x1="311.30" x2="403.40" y1="74.82" y2="74.82" stroke="#a8a8a8" stroke-width="0.5" stroke-dasharray="0.6,1.7"/><line x1="311.30" x2="403.40" y1="72.56" y2="72.56" stroke="#a8a8a8" stroke-width="0.5" stroke-dasharray="0.6,1.7"/><line x1="311.30" x2="403.40" y1="70.81" y2="70.81" stroke="#a8a8a8" stroke-width="0.5" stroke-dasharray="0.6,1.7"/><line x1="311.30" x2="403.40" y1="69.38" y2="69.38" stroke="#a8a8a8" stroke-width="0.5" stroke-dasharray="0.6,1.7"/><line x1="311.30" x2="403.40" y1="68.17" y2="68.17" stroke="#a8a8a8" stroke-width="0.5" stroke-dasharray="0.6,1.7"/><line x1="311.30" x2="403.40" y1="67.12" y2="67.12" stroke="#a8a8a8" stroke-width="0.5" stroke-dasharray="0.6,1.7"/><line x1="311.30" x2="403.40" y1="66.20" y2="66.20" stroke="#a8a8a8" stroke-width="0.5" stroke-dasharray="0.6,1.7"/><line x1="311.30" x2="403.40" y1="65.37" y2="65.37" stroke="#a8a8a8" stroke-width="0.5" stroke-dasharray="0.6,1.7"/><line x1="311.30" x2="403.40" y1="59.93" y2="59.93" stroke="#a8a8a8" stroke-width="0.5" stroke-dasharray="0.6,1.7"/><line x1="311.30" x2="403.40" y1="56.75" y2="56.75" stroke="#a8a8a8" stroke-width="0.5" stroke-dasharray="0.6,1.7"/><line x1="311.30" x2="403.40" y1="54.49" y2="54.49" stroke="#a8a8a8" stroke-width="0.5" stroke-dasharray="0.6,1.7"/><line x1="311.30" x2="403.40" y1="52.74" y2="52.74" stroke="#a8a8a8" stroke-width="0.5" stroke-dasharray="0.6,1.7"/><line x1="311.30" x2="403.40" y1="51.31" y2="51.31" stroke="#a8a8a8" stroke-width="0.5" stroke-dasharray="0.6,1.7"/><line x1="311.30" x2="403.40" y1="50.10" y2="50.10" stroke="#a8a8a8" stroke-width="0.5" stroke-dasharray="0.6,1.7"/><line x1="311.30" x2="403.40" y1="49.05" y2="49.05" stroke="#a8a8a8" stroke-width="0.5" stroke-dasharray="0.6,1.7"/><line x1="311.30" x2="403.40" y1="48.13" y2="48.13" stroke="#a8a8a8" stroke-width="0.5" stroke-dasharray="0.6,1.7"/><line x1="311.30" x2="403.40" y1="41.86" y2="41.86" stroke="#a8a8a8" stroke-width="0.5" stroke-dasharray="0.6,1.7"/><line x1="311.30" x2="403.40" y1="38.68" y2="38.68" stroke="#a8a8a8" stroke-width="0.5" stroke-dasharray="0.6,1.7"/><line x1="311.30" x2="403.40" y1="36.42" y2="36.42" stroke="#a8a8a8" stroke-width="0.5" stroke-dasharray="0.6,1.7"/><line x1="311.30" x2="403.40" y1="34.67" y2="34.67" stroke="#a8a8a8" stroke-width="0.5" stroke-dasharray="0.6,1.7"/><line x1="311.30" x2="403.40" y1="33.24" y2="33.24" stroke="#a8a8a8" stroke-width="0.5" stroke-dasharray="0.6,1.7"/><line x1="311.30" x2="403.40" y1="32.03" y2="32.03" stroke="#a8a8a8" stroke-width="0.5" stroke-dasharray="0.6,1.7"/><line x1="311.30" x2="403.40" y1="30.98" y2="30.98" stroke="#a8a8a8" stroke-width="0.5" stroke-dasharray="0.6,1.7"/><line x1="311.30" x2="403.40" y1="30.06" y2="30.06" stroke="#a8a8a8" stroke-width="0.5" stroke-dasharray="0.6,1.7"/><line x1="311.30" x2="403.40" y1="29.23" y2="29.23" stroke="#a8a8a8" stroke-width="0.5" stroke-dasharray="0.6,1.7"/><line x1="311.30" x2="403.40" y1="23.79" y2="23.79" stroke="#a8a8a8" stroke-width="0.5" stroke-dasharray="0.6,1.7"/><line x1="311.30" x2="403.40" y1="20.61" y2="20.61" stroke="#a8a8a8" stroke-width="0.5" stroke-dasharray="0.6,1.7"/><line x1="311.30" x2="403.40" y1="18.35" y2="18.35" stroke="#a8a8a8" stroke-width="0.5" stroke-dasharray="0.6,1.7"/><line x1="311.30" x2="403.40" y1="16.60" y2="16.60" stroke="#a8a8a8" stroke-width="0.5" stroke-dasharray="0.6,1.7"/><line x1="311.30" x2="403.40" y1="15.17" y2="15.17" stroke="#a8a8a8" stroke-width="0.5" stroke-dasharray="0.6,1.7"/><line x1="311.30" x2="403.40" y1="13.96" y2="13.96" stroke="#a8a8a8" stroke-width="0.5" stroke-dasharray="0.6,1.7"/><line x1="311.30" x2="403.40" y1="12.91" y2="12.91" stroke="#a8a8a8" stroke-width="0.5" stroke-dasharray="0.6,1.7"/><line x1="311.30" x2="403.40" y1="11.99" y2="11.99" stroke="#a8a8a8" stroke-width="0.5" stroke-dasharray="0.6,1.7"/><line x1="311.30" x2="403.40" y1="155.72" y2="155.72" stroke="#e6e6e6" stroke-width="0.6"/><line x1="311.30" x2="403.40" y1="119.58" y2="119.58" stroke="#e6e6e6" stroke-width="0.6"/><line x1="311.30" x2="403.40" y1="83.44" y2="83.44" stroke="#e6e6e6" stroke-width="0.6"/><line x1="311.30" x2="403.40" y1="47.30" y2="47.30" stroke="#e6e6e6" stroke-width="0.6"/><line x1="311.30" x2="403.40" y1="11.16" y2="11.16" stroke="#e6e6e6" stroke-width="0.6"/><line x1="348.14" x2="348.14" y1="10.40" y2="156.40" stroke="#e6e6e6" stroke-width="0.6"/><line x1="384.98" x2="384.98" y1="10.40" y2="156.40" stroke="#e6e6e6" stroke-width="0.6"/></g>
<g clip-path="url(#c3)"><path d="M311.75,157.40 C311.75,156.33 311.75,153.07 311.75,151.00 C311.75,148.93 311.75,147.00 311.75,145.00 C311.75,143.00 311.75,141.00 311.75,139.00 C311.75,137.00 311.75,135.00 311.75,133.00 C311.75,131.00 311.75,129.00 311.75,127.00 C311.75,125.00 311.75,123.00 311.75,121.00 C311.75,119.00 311.73,117.00 311.75,115.00 C311.77,113.00 311.83,111.00 311.90,109.00 C311.97,107.00 312.05,105.00 312.15,103.00 C312.25,101.00 312.29,99.83 312.50,97.00 C312.71,94.17 313.10,89.13 313.40,86.00 C313.70,82.87 313.87,80.78 314.30,78.20 C314.73,75.62 315.32,73.32 316.00,70.50 C316.68,67.68 317.58,63.97 318.40,61.30 C319.22,58.63 320.08,56.33 320.90,54.50 C321.72,52.67 322.53,51.25 323.30,50.30 C324.07,49.35 324.72,49.15 325.50,48.80 C326.28,48.45 326.42,48.37 328.00,48.20 C329.58,48.03 332.17,47.93 335.00,47.80 C337.83,47.67 340.83,47.53 345.00,47.40 C349.17,47.27 354.17,46.97 360.00,47.00 C365.83,47.03 372.67,47.33 380.00,47.60 C387.33,47.87 400.00,48.43 404.00,48.60" fill="none" stroke="#6a6a6a" stroke-width="0.75"/><path d="M311.75,157.40 C311.75,156.23 311.75,152.57 311.75,150.40 C311.75,148.23 311.75,146.40 311.75,144.40 C311.75,142.40 311.75,140.40 311.75,138.40 C311.75,136.40 311.75,134.40 311.75,132.40 C311.75,130.40 311.75,128.40 311.75,126.40 C311.75,124.40 311.75,122.40 311.75,120.40 C311.75,118.40 311.74,116.40 311.75,114.40 C311.76,112.40 311.76,110.40 311.80,108.40 C311.84,106.40 311.92,104.40 312.01,102.40 C312.09,100.40 312.12,99.23 312.30,96.40 C312.48,93.57 312.83,88.53 313.10,85.40 C313.37,82.27 313.50,80.20 313.90,77.60 C314.30,75.00 314.85,72.67 315.50,69.80 C316.15,66.93 317.02,63.13 317.80,60.40 C318.58,57.67 319.42,55.37 320.20,53.40 C320.98,51.43 321.87,49.75 322.50,48.60 C323.13,47.45 323.45,48.20 324.00,46.50 C324.55,44.80 325.32,41.12 325.80,38.40 C326.28,35.68 326.57,32.58 326.90,30.20 C327.23,27.82 327.50,23.72 327.80,24.10 C328.10,24.48 328.27,29.93 328.70,32.50 C329.13,35.07 329.72,37.65 330.40,39.50 C331.08,41.35 331.82,42.52 332.80,43.60 C333.78,44.68 335.23,45.47 336.30,46.00 C337.37,46.53 336.92,46.57 339.20,46.80 C341.48,47.03 344.87,47.20 350.00,47.40 C355.13,47.60 361.00,47.77 370.00,48.00 C379.00,48.23 398.33,48.67 404.00,48.80" fill="none" stroke="#262626" stroke-width="0.85" stroke-dasharray="4.2,2.6"/><path d="M311.75,157.40 C311.75,156.27 311.75,152.73 311.75,150.60 C311.75,148.47 311.75,146.60 311.75,144.60 C311.75,142.60 311.75,140.60 311.75,138.60 C311.75,136.60 311.75,134.60 311.75,132.60 C311.75,130.60 311.75,128.60 311.75,126.60 C311.75,124.60 311.75,122.60 311.75,120.60 C311.75,118.60 311.74,116.60 311.75,114.60 C311.76,112.60 311.76,110.60 311.80,108.60 C311.84,106.60 311.92,104.60 312.01,102.60 C312.09,100.60 312.12,99.43 312.30,96.60 C312.48,93.77 312.83,88.73 313.10,85.60 C313.37,82.47 313.50,80.40 313.90,77.80 C314.30,75.20 314.85,72.87 315.50,70.00 C316.15,67.13 317.02,63.33 317.80,60.60 C318.58,57.87 319.42,55.55 320.20,53.60 C320.98,51.65 321.90,49.83 322.50,48.90 C323.10,47.97 323.42,48.17 323.80,48.00 C324.18,47.83 324.35,47.83 324.80,47.90 C325.25,47.97 325.85,48.23 326.50,48.40 C327.15,48.57 327.78,48.83 328.70,48.90 C329.62,48.97 330.25,48.97 332.00,48.80 C333.75,48.63 336.43,48.23 339.20,47.90 C341.97,47.57 345.80,47.03 348.60,46.80 C351.40,46.57 353.27,46.48 356.00,46.50 C358.73,46.52 361.83,46.72 365.00,46.90 C368.17,47.08 370.83,47.33 375.00,47.60 C379.17,47.87 385.17,48.27 390.00,48.50 C394.83,48.73 401.67,48.92 404.00,49.00" fill="none" stroke="#1a1a1a" stroke-width="0.95"/></g>
<rect x="311.30" y="10.40" width="92.10" height="146.00" stroke="#6e6e6e" stroke-width="0.85" fill="none"/>
<path d="M311.30,156.40v-1.50 M311.30,10.40v1.50 M348.14,156.40v-1.50 M348.14,10.40v1.50 M384.98,156.40v-1.50 M384.98,10.40v1.50 M311.30,155.72h1.50 M403.40,155.72h-1.50 M311.30,119.58h1.50 M403.40,119.58h-1.50 M311.30,83.44h1.50 M403.40,83.44h-1.50 M311.30,47.30h1.50 M403.40,47.30h-1.50 M311.30,11.16h1.50 M403.40,11.16h-1.50 M311.30,150.28h0.90 M403.40,150.28h-0.90 M311.30,147.10h0.90 M403.40,147.10h-0.90 M311.30,144.84h0.90 M403.40,144.84h-0.90 M311.30,143.09h0.90 M403.40,143.09h-0.90 M311.30,141.66h0.90 M403.40,141.66h-0.90 M311.30,140.45h0.90 M403.40,140.45h-0.90 M311.30,139.40h0.90 M403.40,139.40h-0.90 M311.30,138.48h0.90 M403.40,138.48h-0.90 M311.30,137.65h0.90 M403.40,137.65h-0.90 M311.30,132.21h0.90 M403.40,132.21h-0.90 M311.30,129.03h0.90 M403.40,129.03h-0.90 M311.30,126.77h0.90 M403.40,126.77h-0.90 M311.30,125.02h0.90 M403.40,125.02h-0.90 M311.30,123.59h0.90 M403.40,123.59h-0.90 M311.30,122.38h0.90 M403.40,122.38h-0.90 M311.30,121.33h0.90 M403.40,121.33h-0.90 M311.30,120.41h0.90 M403.40,120.41h-0.90 M311.30,114.14h0.90 M403.40,114.14h-0.90 M311.30,110.96h0.90 M403.40,110.96h-0.90 M311.30,108.70h0.90 M403.40,108.70h-0.90 M311.30,106.95h0.90 M403.40,106.95h-0.90 M311.30,105.52h0.90 M403.40,105.52h-0.90 M311.30,104.31h0.90 M403.40,104.31h-0.90 M311.30,103.26h0.90 M403.40,103.26h-0.90 M311.30,102.34h0.90 M403.40,102.34h-0.90 M311.30,101.51h0.90 M403.40,101.51h-0.90 M311.30,96.07h0.90 M403.40,96.07h-0.90 M311.30,92.89h0.90 M403.40,92.89h-0.90 M311.30,90.63h0.90 M403.40,90.63h-0.90 M311.30,88.88h0.90 M403.40,88.88h-0.90 M311.30,87.45h0.90 M403.40,87.45h-0.90 M311.30,86.24h0.90 M403.40,86.24h-0.90 M311.30,85.19h0.90 M403.40,85.19h-0.90 M311.30,84.27h0.90 M403.40,84.27h-0.90 M311.30,78.00h0.90 M403.40,78.00h-0.90 M311.30,74.82h0.90 M403.40,74.82h-0.90 M311.30,72.56h0.90 M403.40,72.56h-0.90 M311.30,70.81h0.90 M403.40,70.81h-0.90 M311.30,69.38h0.90 M403.40,69.38h-0.90 M311.30,68.17h0.90 M403.40,68.17h-0.90 M311.30,67.12h0.90 M403.40,67.12h-0.90 M311.30,66.20h0.90 M403.40,66.20h-0.90 M311.30,65.37h0.90 M403.40,65.37h-0.90 M311.30,59.93h0.90 M403.40,59.93h-0.90 M311.30,56.75h0.90 M403.40,56.75h-0.90 M311.30,54.49h0.90 M403.40,54.49h-0.90 M311.30,52.74h0.90 M403.40,52.74h-0.90 M311.30,51.31h0.90 M403.40,51.31h-0.90 M311.30,50.10h0.90 M403.40,50.10h-0.90 M311.30,49.05h0.90 M403.40,49.05h-0.90 M311.30,48.13h0.90 M403.40,48.13h-0.90 M311.30,41.86h0.90 M403.40,41.86h-0.90 M311.30,38.68h0.90 M403.40,38.68h-0.90 M311.30,36.42h0.90 M403.40,36.42h-0.90 M311.30,34.67h0.90 M403.40,34.67h-0.90 M311.30,33.24h0.90 M403.40,33.24h-0.90 M311.30,32.03h0.90 M403.40,32.03h-0.90 M311.30,30.98h0.90 M403.40,30.98h-0.90 M311.30,30.06h0.90 M403.40,30.06h-0.90 M311.30,29.23h0.90 M403.40,29.23h-0.90 M311.30,23.79h0.90 M403.40,23.79h-0.90 M311.30,20.61h0.90 M403.40,20.61h-0.90 M311.30,18.35h0.90 M403.40,18.35h-0.90 M311.30,16.60h0.90 M403.40,16.60h-0.90 M311.30,15.17h0.90 M403.40,15.17h-0.90 M311.30,13.96h0.90 M403.40,13.96h-0.90 M311.30,12.91h0.90 M403.40,12.91h-0.90 M311.30,11.99h0.90 M403.40,11.99h-0.90" stroke="#333" stroke-width="0.6" fill="none"/>
<text x="311.30" y="168.35" text-anchor="middle" font-size="8.90">0</text>
<text x="348.14" y="168.35" text-anchor="middle" font-size="8.90">2</text>
<text x="384.98" y="168.35" text-anchor="middle" font-size="8.90">4</text>
<text x="307.90" y="160.57" text-anchor="end" font-size="8.90">10<tspan font-size="6.40" dy="-4.8">-6</tspan></text>
<text x="307.90" y="124.43" text-anchor="end" font-size="8.90">10<tspan font-size="6.40" dy="-4.8">-4</tspan></text>
<text x="307.90" y="88.29" text-anchor="end" font-size="8.90">10<tspan font-size="6.40" dy="-4.8">-2</tspan></text>
<text x="307.90" y="52.15" text-anchor="end" font-size="8.90">10<tspan font-size="6.40" dy="-4.8">0</tspan></text>
<text x="307.90" y="16.01" text-anchor="end" font-size="8.90">10<tspan font-size="6.40" dy="-4.8">2</tspan></text>
<text x="357.35" y="6.10" text-anchor="middle" font-size="8.90">Mode 3</text>
<text x="357.35" y="180.90" text-anchor="middle" font-size="8.90">Frequency (Hz)</text>
<text transform="translate(283.80,83.40) rotate(-90)" text-anchor="middle" font-size="8.90">Z<tspan font-size="6.80" dy="3.6">r</tspan><tspan dy="-3.6">(</tspan><tspan font-size="7.6">ω</tspan>)/X<tspan font-size="6.80" dy="3.6">g</tspan><tspan dy="-3.6">(</tspan><tspan font-size="7.6">ω</tspan>)</text>
<g><line x1="450.30" x2="542.40" y1="153.22" y2="153.22" stroke="#a8a8a8" stroke-width="0.5" stroke-dasharray="0.6,1.7"/><line x1="450.30" x2="542.40" y1="117.58" y2="117.58" stroke="#a8a8a8" stroke-width="0.5" stroke-dasharray="0.6,1.7"/><line x1="450.30" x2="542.40" y1="99.76" y2="99.76" stroke="#a8a8a8" stroke-width="0.5" stroke-dasharray="0.6,1.7"/><line x1="450.30" x2="542.40" y1="81.94" y2="81.94" stroke="#a8a8a8" stroke-width="0.5" stroke-dasharray="0.6,1.7"/><line x1="450.30" x2="542.40" y1="64.12" y2="64.12" stroke="#a8a8a8" stroke-width="0.5" stroke-dasharray="0.6,1.7"/><line x1="450.30" x2="542.40" y1="28.48" y2="28.48" stroke="#a8a8a8" stroke-width="0.5" stroke-dasharray="0.6,1.7"/><line x1="450.30" x2="542.40" y1="135.40" y2="135.40" stroke="#e6e6e6" stroke-width="0.6"/><line x1="450.30" x2="542.40" y1="46.30" y2="46.30" stroke="#e6e6e6" stroke-width="0.6"/><line x1="487.14" x2="487.14" y1="10.40" y2="156.40" stroke="#e6e6e6" stroke-width="0.6"/><line x1="523.98" x2="523.98" y1="10.40" y2="156.40" stroke="#e6e6e6" stroke-width="0.6"/></g>
<g clip-path="url(#c4)"><path d="M450.75,157.40 C450.75,156.67 450.75,154.40 450.75,153.00 C450.75,151.60 450.75,150.33 450.75,149.00 C450.75,147.67 450.75,146.33 450.75,145.00 C450.75,143.67 450.75,142.33 450.75,141.00 C450.75,139.67 450.75,138.33 450.75,137.00 C450.75,135.67 450.75,134.33 450.75,133.00 C450.75,131.67 450.75,130.33 450.75,129.00 C450.75,127.67 450.75,126.33 450.75,125.00 C450.75,123.67 450.75,122.33 450.75,121.00 C450.75,119.67 450.75,118.33 450.75,117.00 C450.75,115.67 450.75,114.33 450.75,113.00 C450.75,111.67 450.73,110.33 450.75,109.00 C450.77,107.67 450.80,106.33 450.85,105.00 C450.90,103.67 450.99,102.33 451.08,101.00 C451.17,99.67 451.20,98.97 451.40,97.00 C451.60,95.03 451.87,91.78 452.30,89.20 C452.73,86.62 453.30,84.07 454.00,81.50 C454.70,78.93 455.53,76.35 456.50,73.80 C457.47,71.25 458.58,68.73 459.80,66.20 C461.02,63.67 462.50,60.87 463.80,58.60 C465.10,56.33 466.48,54.10 467.60,52.60 C468.72,51.10 469.60,50.27 470.50,49.60 C471.40,48.93 472.08,48.80 473.00,48.60 C473.92,48.40 474.33,48.30 476.00,48.40 C477.67,48.50 479.00,48.88 483.00,49.20 C487.00,49.52 494.57,49.95 500.00,50.30 C505.43,50.65 508.43,50.90 515.60,51.30 C522.77,51.70 538.43,52.47 543.00,52.70" fill="none" stroke="#6a6a6a" stroke-width="0.75"/><path d="M450.75,157.40 C450.75,156.57 450.75,153.90 450.75,152.40 C450.75,150.90 450.75,149.73 450.75,148.40 C450.75,147.07 450.75,145.73 450.75,144.40 C450.75,143.07 450.75,141.73 450.75,140.40 C450.75,139.07 450.75,137.73 450.75,136.40 C450.75,135.07 450.75,133.73 450.75,132.40 C450.75,131.07 450.75,129.73 450.75,128.40 C450.75,127.07 450.75,125.73 450.75,124.40 C450.75,123.07 450.75,121.73 450.75,120.40 C450.75,119.07 450.75,117.73 450.75,116.40 C450.75,115.07 450.75,113.73 450.75,112.40 C450.75,111.07 450.74,109.73 450.75,108.40 C450.76,107.07 450.76,105.73 450.80,104.40 C450.84,103.07 450.92,101.73 451.01,100.40 C451.09,99.07 451.12,98.38 451.30,96.40 C451.48,94.43 451.70,91.17 452.10,88.55 C452.50,85.93 453.05,83.31 453.70,80.70 C454.35,78.09 455.08,75.50 456.00,72.90 C456.92,70.30 458.02,67.70 459.20,65.10 C460.38,62.50 461.80,59.65 463.10,57.30 C464.40,54.95 465.97,52.80 467.00,51.00 C468.03,49.20 468.67,48.80 469.30,46.50 C469.93,44.20 470.30,40.30 470.80,37.20 C471.30,34.10 471.82,28.10 472.30,27.90 C472.78,27.70 473.08,33.48 473.70,36.00 C474.32,38.52 475.03,41.15 476.00,43.00 C476.97,44.85 478.33,46.12 479.50,47.10 C480.67,48.08 481.25,48.48 483.00,48.90 C484.75,49.32 484.57,49.22 490.00,49.60 C495.43,49.98 506.77,50.70 515.60,51.20 C524.43,51.70 538.43,52.37 543.00,52.60" fill="none" stroke="#262626" stroke-width="0.85" stroke-dasharray="4.2,2.6"/><path d="M450.75,157.40 C450.75,156.60 450.75,154.07 450.75,152.60 C450.75,151.13 450.75,149.93 450.75,148.60 C450.75,147.27 450.75,145.93 450.75,144.60 C450.75,143.27 450.75,141.93 450.75,140.60 C450.75,139.27 450.75,137.93 450.75,136.60 C450.75,135.27 450.75,133.93 450.75,132.60 C450.75,131.27 450.75,129.93 450.75,128.60 C450.75,127.27 450.75,125.93 450.75,124.60 C450.75,123.27 450.75,121.93 450.75,120.60 C450.75,119.27 450.75,117.93 450.75,116.60 C450.75,115.27 450.75,113.93 450.75,112.60 C450.75,111.27 450.74,109.93 450.75,108.60 C450.76,107.27 450.76,105.93 450.80,104.60 C450.84,103.27 450.92,101.93 451.01,100.60 C451.09,99.27 451.12,98.57 451.30,96.60 C451.48,94.62 451.70,91.37 452.10,88.75 C452.50,86.13 453.05,83.51 453.70,80.90 C454.35,78.29 455.08,75.70 456.00,73.10 C456.92,70.50 458.02,67.90 459.20,65.30 C460.38,62.70 461.80,59.84 463.10,57.50 C464.40,55.16 465.97,52.95 467.00,51.25 C468.03,49.55 468.67,48.12 469.30,47.30 C469.93,46.47 470.27,46.38 470.80,46.30 C471.33,46.22 471.82,46.57 472.50,46.80 C473.18,47.03 473.15,47.35 474.90,47.70 C476.65,48.05 478.82,48.48 483.00,48.90 C487.18,49.32 494.57,49.80 500.00,50.20 C505.43,50.60 508.43,50.90 515.60,51.30 C522.77,51.70 538.43,52.38 543.00,52.60" fill="none" stroke="#1a1a1a" stroke-width="0.95"/></g>
<rect x="450.30" y="10.40" width="92.10" height="146.00" stroke="#6e6e6e" stroke-width="0.85" fill="none"/>
<path d="M450.30,156.40v-1.50 M450.30,10.40v1.50 M487.14,156.40v-1.50 M487.14,10.40v1.50 M523.98,156.40v-1.50 M523.98,10.40v1.50 M450.30,135.40h1.50 M542.40,135.40h-1.50 M450.30,46.30h1.50 M542.40,46.30h-1.50 M450.30,153.22h0.90 M542.40,153.22h-0.90 M450.30,117.58h0.90 M542.40,117.58h-0.90 M450.30,99.76h0.90 M542.40,99.76h-0.90 M450.30,81.94h0.90 M542.40,81.94h-0.90 M450.30,64.12h0.90 M542.40,64.12h-0.90 M450.30,28.48h0.90 M542.40,28.48h-0.90" stroke="#333" stroke-width="0.6" fill="none"/>
<text x="450.30" y="168.35" text-anchor="middle" font-size="8.90">0</text>
<text x="487.14" y="168.35" text-anchor="middle" font-size="8.90">2</text>
<text x="523.98" y="168.35" text-anchor="middle" font-size="8.90">4</text>
<text x="446.90" y="140.25" text-anchor="end" font-size="8.90">10<tspan font-size="6.40" dy="-4.8">-5</tspan></text>
<text x="446.90" y="51.15" text-anchor="end" font-size="8.90">10<tspan font-size="6.40" dy="-4.8">0</tspan></text>
<text x="496.35" y="6.10" text-anchor="middle" font-size="8.90">Mode 4</text>
<text x="496.35" y="180.90" text-anchor="middle" font-size="8.90">Frequency (Hz)</text>
<text transform="translate(422.80,83.40) rotate(-90)" text-anchor="middle" font-size="8.90">Z<tspan font-size="6.80" dy="3.6">r</tspan><tspan dy="-3.6">(</tspan><tspan font-size="7.6">ω</tspan>)/X<tspan font-size="6.80" dy="3.6">g</tspan><tspan dy="-3.6">(</tspan><tspan font-size="7.6">ω</tspan>)</text>
<g><line x1="588.50" x2="680.60" y1="155.94" y2="155.94" stroke="#a8a8a8" stroke-width="0.5" stroke-dasharray="0.6,1.7"/><line x1="588.50" x2="680.60" y1="141.36" y2="141.36" stroke="#a8a8a8" stroke-width="0.5" stroke-dasharray="0.6,1.7"/><line x1="588.50" x2="680.60" y1="126.78" y2="126.78" stroke="#a8a8a8" stroke-width="0.5" stroke-dasharray="0.6,1.7"/><line x1="588.50" x2="680.60" y1="97.62" y2="97.62" stroke="#a8a8a8" stroke-width="0.5" stroke-dasharray="0.6,1.7"/><line x1="588.50" x2="680.60" y1="83.04" y2="83.04" stroke="#a8a8a8" stroke-width="0.5" stroke-dasharray="0.6,1.7"/><line x1="588.50" x2="680.60" y1="68.46" y2="68.46" stroke="#a8a8a8" stroke-width="0.5" stroke-dasharray="0.6,1.7"/><line x1="588.50" x2="680.60" y1="53.88" y2="53.88" stroke="#a8a8a8" stroke-width="0.5" stroke-dasharray="0.6,1.7"/><line x1="588.50" x2="680.60" y1="24.72" y2="24.72" stroke="#a8a8a8" stroke-width="0.5" stroke-dasharray="0.6,1.7"/><line x1="588.50" x2="680.60" y1="112.20" y2="112.20" stroke="#e6e6e6" stroke-width="0.6"/><line x1="588.50" x2="680.60" y1="39.30" y2="39.30" stroke="#e6e6e6" stroke-width="0.6"/><line x1="625.34" x2="625.34" y1="10.40" y2="156.40" stroke="#e6e6e6" stroke-width="0.6"/><line x1="662.18" x2="662.18" y1="10.40" y2="156.40" stroke="#e6e6e6" stroke-width="0.6"/></g>
<g clip-path="url(#c5)"><path d="M588.95,157.40 C588.95,157.00 588.95,156.15 588.95,155.00 C588.95,153.85 588.95,152.00 588.95,150.50 C588.95,149.00 588.95,147.50 588.95,146.00 C588.95,144.50 588.95,143.00 588.95,141.50 C588.95,140.00 588.95,138.50 588.95,137.00 C588.95,135.50 588.95,134.00 588.95,132.50 C588.95,131.00 588.95,129.50 588.95,128.00 C588.95,126.50 588.95,125.00 588.95,123.50 C588.95,122.00 588.95,120.50 588.95,119.00 C588.95,117.50 588.95,116.00 588.95,114.50 C588.95,113.00 588.95,111.50 588.95,110.00 C588.95,108.50 588.95,107.00 588.95,105.50 C588.95,104.00 588.92,102.50 588.95,101.00 C588.98,99.50 589.06,98.00 589.14,96.50 C589.21,95.00 589.21,94.30 589.40,92.00 C589.59,89.70 589.87,85.53 590.30,82.70 C590.73,79.87 591.30,77.32 592.00,75.00 C592.70,72.68 593.53,70.85 594.50,68.80 C595.47,66.75 596.58,64.75 597.80,62.70 C599.02,60.65 600.35,58.55 601.80,56.50 C603.25,54.45 604.92,52.32 606.50,50.40 C608.08,48.48 609.97,46.20 611.30,45.00 C612.63,43.80 613.38,43.55 614.50,43.20 C615.62,42.85 616.58,42.83 618.00,42.90 C619.42,42.97 621.00,43.28 623.00,43.60 C625.00,43.92 626.17,44.40 630.00,44.80 C633.83,45.20 640.17,45.63 646.00,46.00 C651.83,46.37 659.17,46.72 665.00,47.00 C670.83,47.28 678.33,47.58 681.00,47.70" fill="none" stroke="#6a6a6a" stroke-width="0.75"/><path d="M588.95,157.40 C588.95,156.90 588.95,155.65 588.95,154.40 C588.95,153.15 588.95,151.40 588.95,149.90 C588.95,148.40 588.95,146.90 588.95,145.40 C588.95,143.90 588.95,142.40 588.95,140.90 C588.95,139.40 588.95,137.90 588.95,136.40 C588.95,134.90 588.95,133.40 588.95,131.90 C588.95,130.40 588.95,128.90 588.95,127.40 C588.95,125.90 588.95,124.40 588.95,122.90 C588.95,121.40 588.95,119.90 588.95,118.40 C588.95,116.90 588.95,115.40 588.95,113.90 C588.95,112.40 588.95,110.90 588.95,109.40 C588.95,107.90 588.95,106.40 588.95,104.90 C588.95,103.40 588.93,101.90 588.95,100.40 C588.97,98.90 589.01,97.40 589.07,95.90 C589.12,94.40 589.13,93.72 589.30,91.40 C589.47,89.08 589.70,84.87 590.10,82.00 C590.50,79.13 591.05,76.55 591.70,74.20 C592.35,71.85 593.08,69.98 594.00,67.90 C594.92,65.82 596.02,63.78 597.20,61.70 C598.38,59.62 599.68,57.48 601.10,55.40 C602.52,53.32 604.35,51.07 605.75,49.20 C607.15,47.33 608.51,45.75 609.50,44.20 C610.49,42.65 611.00,41.70 611.70,39.90 C612.40,38.10 613.10,35.42 613.70,33.40 C614.30,31.38 614.72,27.75 615.30,27.80 C615.88,27.85 616.50,31.68 617.20,33.70 C617.90,35.72 618.47,38.35 619.50,39.90 C620.53,41.45 622.15,42.23 623.40,43.00 C624.65,43.77 623.23,44.02 627.00,44.50 C630.77,44.98 639.67,45.48 646.00,45.90 C652.33,46.32 659.17,46.70 665.00,47.00 C670.83,47.30 678.33,47.58 681.00,47.70" fill="none" stroke="#262626" stroke-width="0.85" stroke-dasharray="4.2,2.6"/><path d="M588.95,157.40 C588.95,156.93 588.95,155.82 588.95,154.60 C588.95,153.38 588.95,151.60 588.95,150.10 C588.95,148.60 588.95,147.10 588.95,145.60 C588.95,144.10 588.95,142.60 588.95,141.10 C588.95,139.60 588.95,138.10 588.95,136.60 C588.95,135.10 588.95,133.60 588.95,132.10 C588.95,130.60 588.95,129.10 588.95,127.60 C588.95,126.10 588.95,124.60 588.95,123.10 C588.95,121.60 588.95,120.10 588.95,118.60 C588.95,117.10 588.95,115.60 588.95,114.10 C588.95,112.60 588.95,111.10 588.95,109.60 C588.95,108.10 588.95,106.60 588.95,105.10 C588.95,103.60 588.93,102.10 588.95,100.60 C588.97,99.10 589.01,97.60 589.07,96.10 C589.12,94.60 589.13,93.92 589.30,91.60 C589.47,89.28 589.70,85.07 590.10,82.20 C590.50,79.33 591.05,76.75 591.70,74.40 C592.35,72.05 593.08,70.18 594.00,68.10 C594.92,66.02 596.02,63.98 597.20,61.90 C598.38,59.82 599.68,57.68 601.10,55.60 C602.52,53.52 604.20,51.48 605.75,49.40 C607.30,47.32 609.29,44.37 610.40,43.10 C611.51,41.83 611.85,42.08 612.40,41.80 C612.95,41.52 613.18,41.42 613.70,41.40 C614.22,41.38 614.67,41.55 615.50,41.70 C616.33,41.85 616.87,41.87 618.70,42.30 C620.53,42.73 621.95,43.70 626.50,44.30 C631.05,44.90 639.58,45.45 646.00,45.90 C652.42,46.35 659.17,46.72 665.00,47.00 C670.83,47.28 678.33,47.50 681.00,47.60" fill="none" stroke="#1a1a1a" stroke-width="0.95"/></g>
<rect x="588.50" y="10.40" width="92.10" height="146.00" stroke="#6e6e6e" stroke-width="0.85" fill="none"/>
<path d="M588.50,156.40v-1.50 M588.50,10.40v1.50 M625.34,156.40v-1.50 M625.34,10.40v1.50 M662.18,156.40v-1.50 M662.18,10.40v1.50 M588.50,112.20h1.50 M680.60,112.20h-1.50 M588.50,39.30h1.50 M680.60,39.30h-1.50 M588.50,155.94h0.90 M680.60,155.94h-0.90 M588.50,141.36h0.90 M680.60,141.36h-0.90 M588.50,126.78h0.90 M680.60,126.78h-0.90 M588.50,97.62h0.90 M680.60,97.62h-0.90 M588.50,83.04h0.90 M680.60,83.04h-0.90 M588.50,68.46h0.90 M680.60,68.46h-0.90 M588.50,53.88h0.90 M680.60,53.88h-0.90 M588.50,24.72h0.90 M680.60,24.72h-0.90" stroke="#333" stroke-width="0.6" fill="none"/>
<text x="588.50" y="168.35" text-anchor="middle" font-size="8.90">0</text>
<text x="625.34" y="168.35" text-anchor="middle" font-size="8.90">2</text>
<text x="662.18" y="168.35" text-anchor="middle" font-size="8.90">4</text>
<text x="585.10" y="117.05" text-anchor="end" font-size="8.90">10<tspan font-size="6.40" dy="-4.8">-5</tspan></text>
<text x="585.10" y="44.15" text-anchor="end" font-size="8.90">10<tspan font-size="6.40" dy="-4.8">0</tspan></text>
<text x="634.55" y="6.10" text-anchor="middle" font-size="8.90">Mode 5</text>
<text x="634.55" y="180.90" text-anchor="middle" font-size="8.90">Frequency (Hz)</text>
<text transform="translate(561.00,83.40) rotate(-90)" text-anchor="middle" font-size="8.90">Z<tspan font-size="6.80" dy="3.6">r</tspan><tspan dy="-3.6">(</tspan><tspan font-size="7.6">ω</tspan>)/X<tspan font-size="6.80" dy="3.6">g</tspan><tspan dy="-3.6">(</tspan><tspan font-size="7.6">ω</tspan>)</text>
<g><line x1="34.30" x2="126.40" y1="343.55" y2="343.55" stroke="#a8a8a8" stroke-width="0.5" stroke-dasharray="0.6,1.7"/><line x1="34.30" x2="126.40" y1="329.10" y2="329.10" stroke="#a8a8a8" stroke-width="0.5" stroke-dasharray="0.6,1.7"/><line x1="34.30" x2="126.40" y1="300.20" y2="300.20" stroke="#a8a8a8" stroke-width="0.5" stroke-dasharray="0.6,1.7"/><line x1="34.30" x2="126.40" y1="285.75" y2="285.75" stroke="#a8a8a8" stroke-width="0.5" stroke-dasharray="0.6,1.7"/><line x1="34.30" x2="126.40" y1="271.30" y2="271.30" stroke="#a8a8a8" stroke-width="0.5" stroke-dasharray="0.6,1.7"/><line x1="34.30" x2="126.40" y1="256.85" y2="256.85" stroke="#a8a8a8" stroke-width="0.5" stroke-dasharray="0.6,1.7"/><line x1="34.30" x2="126.40" y1="227.95" y2="227.95" stroke="#a8a8a8" stroke-width="0.5" stroke-dasharray="0.6,1.7"/><line x1="34.30" x2="126.40" y1="314.65" y2="314.65" stroke="#e6e6e6" stroke-width="0.6"/><line x1="34.30" x2="126.40" y1="242.40" y2="242.40" stroke="#e6e6e6" stroke-width="0.6"/><line x1="80.35" x2="80.35" y1="213.50" y2="358.30" stroke="#e6e6e6" stroke-width="0.6"/></g>
<g clip-path="url(#c6)"><path d="M34.75,359.30 C34.75,359.00 34.75,358.47 34.75,357.50 C34.75,356.53 34.75,354.83 34.75,353.50 C34.75,352.17 34.75,350.83 34.75,349.50 C34.75,348.17 34.75,346.83 34.75,345.50 C34.75,344.17 34.75,342.83 34.75,341.50 C34.75,340.17 34.75,338.83 34.75,337.50 C34.75,336.17 34.75,334.83 34.75,333.50 C34.75,332.17 34.75,330.83 34.75,329.50 C34.75,328.17 34.75,326.83 34.75,325.50 C34.75,324.17 34.75,322.83 34.75,321.50 C34.75,320.17 34.75,318.83 34.75,317.50 C34.75,316.17 34.75,314.83 34.75,313.50 C34.75,312.17 34.75,310.83 34.75,309.50 C34.75,308.17 34.75,306.83 34.75,305.50 C34.75,304.17 34.74,302.83 34.75,301.50 C34.76,300.17 34.75,298.83 34.79,297.50 C34.84,296.17 34.92,294.83 35.00,293.50 C35.08,292.17 35.17,290.83 35.29,289.50 C35.41,288.17 35.35,287.58 35.70,285.50 C36.05,283.42 36.75,279.75 37.40,277.00 C38.05,274.25 38.87,271.30 39.60,269.00 C40.33,266.70 41.07,265.03 41.80,263.20 C42.53,261.37 43.28,259.53 44.00,258.00 C44.72,256.47 45.40,255.23 46.10,254.00 C46.80,252.77 47.55,251.30 48.20,250.60 C48.85,249.90 49.20,249.83 50.00,249.80 C50.80,249.77 51.80,250.17 53.00,250.40 C54.20,250.63 54.55,250.80 57.20,251.20 C59.85,251.60 63.70,252.33 68.90,252.80 C74.10,253.27 78.72,253.73 88.40,254.00 C98.08,254.27 120.57,254.33 127.00,254.40" fill="none" stroke="#6a6a6a" stroke-width="0.75"/><path d="M34.75,359.30 C34.75,358.88 34.75,357.88 34.75,356.80 C34.75,355.72 34.75,354.13 34.75,352.80 C34.75,351.47 34.75,350.13 34.75,348.80 C34.75,347.47 34.75,346.13 34.75,344.80 C34.75,343.47 34.75,342.13 34.75,340.80 C34.75,339.47 34.75,338.13 34.75,336.80 C34.75,335.47 34.75,334.13 34.75,332.80 C34.75,331.47 34.75,330.13 34.75,328.80 C34.75,327.47 34.75,326.13 34.75,324.80 C34.75,323.47 34.75,322.13 34.75,320.80 C34.75,319.47 34.75,318.13 34.75,316.80 C34.75,315.47 34.75,314.13 34.75,312.80 C34.75,311.47 34.75,310.13 34.75,308.80 C34.75,307.47 34.75,306.13 34.75,304.80 C34.75,303.47 34.75,302.13 34.75,300.80 C34.75,299.47 34.73,298.13 34.76,296.80 C34.79,295.47 34.87,294.13 34.95,292.80 C35.03,291.47 35.11,290.13 35.22,288.80 C35.33,287.47 35.27,286.88 35.60,284.80 C35.93,282.72 36.58,279.05 37.20,276.30 C37.82,273.55 38.60,270.63 39.30,268.30 C40.00,265.97 40.70,264.17 41.40,262.30 C42.10,260.43 42.82,258.68 43.50,257.10 C44.18,255.52 44.85,254.22 45.50,252.80 C46.15,251.38 46.92,249.75 47.40,248.60 C47.88,247.45 48.12,247.10 48.40,245.90 C48.68,244.70 48.87,243.37 49.10,241.40 C49.33,239.43 49.42,234.10 49.80,234.10 C50.18,234.10 50.83,239.28 51.40,241.40 C51.97,243.52 52.60,245.52 53.20,246.80 C53.80,248.08 54.17,248.42 55.00,249.10 C55.83,249.78 55.88,250.32 58.20,250.90 C60.52,251.48 63.87,252.08 68.90,252.60 C73.93,253.12 78.72,253.70 88.40,254.00 C98.08,254.30 120.57,254.33 127.00,254.40" fill="none" stroke="#262626" stroke-width="0.85" stroke-dasharray="4.2,2.6"/><path d="M34.75,359.30 C34.75,358.92 34.75,358.05 34.75,357.00 C34.75,355.95 34.75,354.33 34.75,353.00 C34.75,351.67 34.75,350.33 34.75,349.00 C34.75,347.67 34.75,346.33 34.75,345.00 C34.75,343.67 34.75,342.33 34.75,341.00 C34.75,339.67 34.75,338.33 34.75,337.00 C34.75,335.67 34.75,334.33 34.75,333.00 C34.75,331.67 34.75,330.33 34.75,329.00 C34.75,327.67 34.75,326.33 34.75,325.00 C34.75,323.67 34.75,322.33 34.75,321.00 C34.75,319.67 34.75,318.33 34.75,317.00 C34.75,315.67 34.75,314.33 34.75,313.00 C34.75,311.67 34.75,310.33 34.75,309.00 C34.75,307.67 34.75,306.33 34.75,305.00 C34.75,303.67 34.75,302.33 34.75,301.00 C34.75,299.67 34.73,298.33 34.76,297.00 C34.79,295.67 34.87,294.33 34.95,293.00 C35.03,291.67 35.11,290.33 35.22,289.00 C35.33,287.67 35.27,287.08 35.60,285.00 C35.93,282.92 36.58,279.25 37.20,276.50 C37.82,273.75 38.60,270.83 39.30,268.50 C40.00,266.17 40.70,264.37 41.40,262.50 C42.10,260.63 42.82,258.88 43.50,257.30 C44.18,255.72 44.82,254.33 45.50,253.00 C46.18,251.67 47.08,250.00 47.60,249.30 C48.12,248.60 48.20,248.83 48.60,248.80 C49.00,248.77 49.17,248.82 50.00,249.10 C50.83,249.38 52.23,250.12 53.60,250.50 C54.97,250.88 56.30,251.10 58.20,251.40 C60.10,251.70 62.20,251.98 65.00,252.30 C67.80,252.62 71.10,253.02 75.00,253.30 C78.90,253.58 79.73,253.82 88.40,254.00 C97.07,254.18 120.57,254.33 127.00,254.40" fill="none" stroke="#1a1a1a" stroke-width="0.95"/></g>
<rect x="34.30" y="213.50" width="92.10" height="144.80" stroke="#6e6e6e" stroke-width="0.85" fill="none"/>
<path d="M34.30,358.30v-1.50 M34.30,213.50v1.50 M80.35,358.30v-1.50 M80.35,213.50v1.50 M126.40,358.30v-1.50 M126.40,213.50v1.50 M34.30,314.65h1.50 M126.40,314.65h-1.50 M34.30,242.40h1.50 M126.40,242.40h-1.50 M34.30,343.55h0.90 M126.40,343.55h-0.90 M34.30,329.10h0.90 M126.40,329.10h-0.90 M34.30,300.20h0.90 M126.40,300.20h-0.90 M34.30,285.75h0.90 M126.40,285.75h-0.90 M34.30,271.30h0.90 M126.40,271.30h-0.90 M34.30,256.85h0.90 M126.40,256.85h-0.90 M34.30,227.95h0.90 M126.40,227.95h-0.90" stroke="#333" stroke-width="0.6" fill="none"/>
<text x="34.30" y="370.25" text-anchor="middle" font-size="8.90">0</text>
<text x="80.35" y="370.25" text-anchor="middle" font-size="8.90">5</text>
<text x="126.40" y="370.25" text-anchor="middle" font-size="8.90">10</text>
<text x="30.90" y="319.50" text-anchor="end" font-size="8.90">10<tspan font-size="6.40" dy="-4.8">-5</tspan></text>
<text x="30.90" y="247.25" text-anchor="end" font-size="8.90">10<tspan font-size="6.40" dy="-4.8">0</tspan></text>
<text x="80.35" y="209.20" text-anchor="middle" font-size="8.90">Mode 6</text>
<text x="80.35" y="382.80" text-anchor="middle" font-size="8.90">Frequency (Hz)</text>
<text transform="translate(6.80,285.90) rotate(-90)" text-anchor="middle" font-size="8.90">Z<tspan font-size="6.80" dy="3.6">r</tspan><tspan dy="-3.6">(</tspan><tspan font-size="7.6">ω</tspan>)/X<tspan font-size="6.80" dy="3.6">g</tspan><tspan dy="-3.6">(</tspan><tspan font-size="7.6">ω</tspan>)</text>
<g><line x1="172.90" x2="265.00" y1="352.60" y2="352.60" stroke="#a8a8a8" stroke-width="0.5" stroke-dasharray="0.6,1.7"/><line x1="172.90" x2="265.00" y1="349.41" y2="349.41" stroke="#a8a8a8" stroke-width="0.5" stroke-dasharray="0.6,1.7"/><line x1="172.90" x2="265.00" y1="347.15" y2="347.15" stroke="#a8a8a8" stroke-width="0.5" stroke-dasharray="0.6,1.7"/><line x1="172.90" x2="265.00" y1="345.40" y2="345.40" stroke="#a8a8a8" stroke-width="0.5" stroke-dasharray="0.6,1.7"/><line x1="172.90" x2="265.00" y1="343.97" y2="343.97" stroke="#a8a8a8" stroke-width="0.5" stroke-dasharray="0.6,1.7"/><line x1="172.90" x2="265.00" y1="342.76" y2="342.76" stroke="#a8a8a8" stroke-width="0.5" stroke-dasharray="0.6,1.7"/><line x1="172.90" x2="265.00" y1="341.71" y2="341.71" stroke="#a8a8a8" stroke-width="0.5" stroke-dasharray="0.6,1.7"/><line x1="172.90" x2="265.00" y1="340.79" y2="340.79" stroke="#a8a8a8" stroke-width="0.5" stroke-dasharray="0.6,1.7"/><line x1="172.90" x2="265.00" y1="339.96" y2="339.96" stroke="#a8a8a8" stroke-width="0.5" stroke-dasharray="0.6,1.7"/><line x1="172.90" x2="265.00" y1="334.52" y2="334.52" stroke="#a8a8a8" stroke-width="0.5" stroke-dasharray="0.6,1.7"/><line x1="172.90" x2="265.00" y1="331.33" y2="331.33" stroke="#a8a8a8" stroke-width="0.5" stroke-dasharray="0.6,1.7"/><line x1="172.90" x2="265.00" y1="329.07" y2="329.07" stroke="#a8a8a8" stroke-width="0.5" stroke-dasharray="0.6,1.7"/><line x1="172.90" x2="265.00" y1="327.32" y2="327.32" stroke="#a8a8a8" stroke-width="0.5" stroke-dasharray="0.6,1.7"/><line x1="172.90" x2="265.00" y1="325.89" y2="325.89" stroke="#a8a8a8" stroke-width="0.5" stroke-dasharray="0.6,1.7"/><line x1="172.90" x2="265.00" y1="324.68" y2="324.68" stroke="#a8a8a8" stroke-width="0.5" stroke-dasharray="0.6,1.7"/><line x1="172.90" x2="265.00" y1="323.63" y2="323.63" stroke="#a8a8a8" stroke-width="0.5" stroke-dasharray="0.6,1.7"/><line x1="172.90" x2="265.00" y1="322.71" y2="322.71" stroke="#a8a8a8" stroke-width="0.5" stroke-dasharray="0.6,1.7"/><line x1="172.90" x2="265.00" y1="316.44" y2="316.44" stroke="#a8a8a8" stroke-width="0.5" stroke-dasharray="0.6,1.7"/><line x1="172.90" x2="265.00" y1="313.25" y2="313.25" stroke="#a8a8a8" stroke-width="0.5" stroke-dasharray="0.6,1.7"/><line x1="172.90" x2="265.00" y1="310.99" y2="310.99" stroke="#a8a8a8" stroke-width="0.5" stroke-dasharray="0.6,1.7"/><line x1="172.90" x2="265.00" y1="309.24" y2="309.24" stroke="#a8a8a8" stroke-width="0.5" stroke-dasharray="0.6,1.7"/><line x1="172.90" x2="265.00" y1="307.81" y2="307.81" stroke="#a8a8a8" stroke-width="0.5" stroke-dasharray="0.6,1.7"/><line x1="172.90" x2="265.00" y1="306.60" y2="306.60" stroke="#a8a8a8" stroke-width="0.5" stroke-dasharray="0.6,1.7"/><line x1="172.90" x2="265.00" y1="305.55" y2="305.55" stroke="#a8a8a8" stroke-width="0.5" stroke-dasharray="0.6,1.7"/><line x1="172.90" x2="265.00" y1="304.63" y2="304.63" stroke="#a8a8a8" stroke-width="0.5" stroke-dasharray="0.6,1.7"/><line x1="172.90" x2="265.00" y1="303.80" y2="303.80" stroke="#a8a8a8" stroke-width="0.5" stroke-dasharray="0.6,1.7"/><line x1="172.90" x2="265.00" y1="298.36" y2="298.36" stroke="#a8a8a8" stroke-width="0.5" stroke-dasharray="0.6,1.7"/><line x1="172.90" x2="265.00" y1="295.17" y2="295.17" stroke="#a8a8a8" stroke-width="0.5" stroke-dasharray="0.6,1.7"/><line x1="172.90" x2="265.00" y1="292.91" y2="292.91" stroke="#a8a8a8" stroke-width="0.5" stroke-dasharray="0.6,1.7"/><line x1="172.90" x2="265.00" y1="291.16" y2="291.16" stroke="#a8a8a8" stroke-width="0.5" stroke-dasharray="0.6,1.7"/><line x1="172.90" x2="265.00" y1="289.73" y2="289.73" stroke="#a8a8a8" stroke-width="0.5" stroke-dasharray="0.6,1.7"/><line x1="172.90" x2="265.00" y1="288.52" y2="288.52" stroke="#a8a8a8" stroke-width="0.5" stroke-dasharray="0.6,1.7"/><line x1="172.90" x2="265.00" y1="287.47" y2="287.47" stroke="#a8a8a8" stroke-width="0.5" stroke-dasharray="0.6,1.7"/><line x1="172.90" x2="265.00" y1="286.55" y2="286.55" stroke="#a8a8a8" stroke-width="0.5" stroke-dasharray="0.6,1.7"/><line x1="172.90" x2="265.00" y1="280.28" y2="280.28" stroke="#a8a8a8" stroke-width="0.5" stroke-dasharray="0.6,1.7"/><line x1="172.90" x2="265.00" y1="277.09" y2="277.09" stroke="#a8a8a8" stroke-width="0.5" stroke-dasharray="0.6,1.7"/><line x1="172.90" x2="265.00" y1="274.83" y2="274.83" stroke="#a8a8a8" stroke-width="0.5" stroke-dasharray="0.6,1.7"/><line x1="172.90" x2="265.00" y1="273.08" y2="273.08" stroke="#a8a8a8" stroke-width="0.5" stroke-dasharray="0.6,1.7"/><line x1="172.90" x2="265.00" y1="271.65" y2="271.65" stroke="#a8a8a8" stroke-width="0.5" stroke-dasharray="0.6,1.7"/><line x1="172.90" x2="265.00" y1="270.44" y2="270.44" stroke="#a8a8a8" stroke-width="0.5" stroke-dasharray="0.6,1.7"/><line x1="172.90" x2="265.00" y1="269.39" y2="269.39" stroke="#a8a8a8" stroke-width="0.5" stroke-dasharray="0.6,1.7"/><line x1="172.90" x2="265.00" y1="268.47" y2="268.47" stroke="#a8a8a8" stroke-width="0.5" stroke-dasharray="0.6,1.7"/><line x1="172.90" x2="265.00" y1="267.64" y2="267.64" stroke="#a8a8a8" stroke-width="0.5" stroke-dasharray="0.6,1.7"/><line x1="172.90" x2="265.00" y1="262.20" y2="262.20" stroke="#a8a8a8" stroke-width="0.5" stroke-dasharray="0.6,1.7"/><line x1="172.90" x2="265.00" y1="259.01" y2="259.01" stroke="#a8a8a8" stroke-width="0.5" stroke-dasharray="0.6,1.7"/><line x1="172.90" x2="265.00" y1="256.75" y2="256.75" stroke="#a8a8a8" stroke-width="0.5" stroke-dasharray="0.6,1.7"/><line x1="172.90" x2="265.00" y1="255.00" y2="255.00" stroke="#a8a8a8" stroke-width="0.5" stroke-dasharray="0.6,1.7"/><line x1="172.90" x2="265.00" y1="253.57" y2="253.57" stroke="#a8a8a8" stroke-width="0.5" stroke-dasharray="0.6,1.7"/><line x1="172.90" x2="265.00" y1="252.36" y2="252.36" stroke="#a8a8a8" stroke-width="0.5" stroke-dasharray="0.6,1.7"/><line x1="172.90" x2="265.00" y1="251.31" y2="251.31" stroke="#a8a8a8" stroke-width="0.5" stroke-dasharray="0.6,1.7"/><line x1="172.90" x2="265.00" y1="250.39" y2="250.39" stroke="#a8a8a8" stroke-width="0.5" stroke-dasharray="0.6,1.7"/><line x1="172.90" x2="265.00" y1="244.12" y2="244.12" stroke="#a8a8a8" stroke-width="0.5" stroke-dasharray="0.6,1.7"/><line x1="172.90" x2="265.00" y1="240.93" y2="240.93" stroke="#a8a8a8" stroke-width="0.5" stroke-dasharray="0.6,1.7"/><line x1="172.90" x2="265.00" y1="238.67" y2="238.67" stroke="#a8a8a8" stroke-width="0.5" stroke-dasharray="0.6,1.7"/><line x1="172.90" x2="265.00" y1="236.92" y2="236.92" stroke="#a8a8a8" stroke-width="0.5" stroke-dasharray="0.6,1.7"/><line x1="172.90" x2="265.00" y1="235.49" y2="235.49" stroke="#a8a8a8" stroke-width="0.5" stroke-dasharray="0.6,1.7"/><line x1="172.90" x2="265.00" y1="234.28" y2="234.28" stroke="#a8a8a8" stroke-width="0.5" stroke-dasharray="0.6,1.7"/><line x1="172.90" x2="265.00" y1="233.23" y2="233.23" stroke="#a8a8a8" stroke-width="0.5" stroke-dasharray="0.6,1.7"/><line x1="172.90" x2="265.00" y1="232.31" y2="232.31" stroke="#a8a8a8" stroke-width="0.5" stroke-dasharray="0.6,1.7"/><line x1="172.90" x2="265.00" y1="231.48" y2="231.48" stroke="#a8a8a8" stroke-width="0.5" stroke-dasharray="0.6,1.7"/><line x1="172.90" x2="265.00" y1="226.04" y2="226.04" stroke="#a8a8a8" stroke-width="0.5" stroke-dasharray="0.6,1.7"/><line x1="172.90" x2="265.00" y1="222.85" y2="222.85" stroke="#a8a8a8" stroke-width="0.5" stroke-dasharray="0.6,1.7"/><line x1="172.90" x2="265.00" y1="220.59" y2="220.59" stroke="#a8a8a8" stroke-width="0.5" stroke-dasharray="0.6,1.7"/><line x1="172.90" x2="265.00" y1="218.84" y2="218.84" stroke="#a8a8a8" stroke-width="0.5" stroke-dasharray="0.6,1.7"/><line x1="172.90" x2="265.00" y1="217.41" y2="217.41" stroke="#a8a8a8" stroke-width="0.5" stroke-dasharray="0.6,1.7"/><line x1="172.90" x2="265.00" y1="216.20" y2="216.20" stroke="#a8a8a8" stroke-width="0.5" stroke-dasharray="0.6,1.7"/><line x1="172.90" x2="265.00" y1="215.15" y2="215.15" stroke="#a8a8a8" stroke-width="0.5" stroke-dasharray="0.6,1.7"/><line x1="172.90" x2="265.00" y1="214.23" y2="214.23" stroke="#a8a8a8" stroke-width="0.5" stroke-dasharray="0.6,1.7"/><line x1="172.90" x2="265.00" y1="321.88" y2="321.88" stroke="#e6e6e6" stroke-width="0.6"/><line x1="172.90" x2="265.00" y1="285.72" y2="285.72" stroke="#e6e6e6" stroke-width="0.6"/><line x1="172.90" x2="265.00" y1="249.56" y2="249.56" stroke="#e6e6e6" stroke-width="0.6"/><line x1="218.95" x2="218.95" y1="213.50" y2="358.30" stroke="#e6e6e6" stroke-width="0.6"/></g>
<g clip-path="url(#c7)"><path d="M173.35,359.30 C173.35,358.92 173.35,357.97 173.35,357.00 C173.35,356.03 173.35,354.67 173.35,353.50 C173.35,352.33 173.35,351.17 173.35,350.00 C173.35,348.83 173.35,347.67 173.35,346.50 C173.35,345.33 173.35,344.17 173.35,343.00 C173.35,341.83 173.35,340.67 173.35,339.50 C173.35,338.33 173.35,337.17 173.35,336.00 C173.35,334.83 173.35,333.67 173.35,332.50 C173.35,331.33 173.35,330.17 173.35,329.00 C173.35,327.83 173.35,326.67 173.35,325.50 C173.35,324.33 173.35,323.17 173.35,322.00 C173.35,320.83 173.35,319.67 173.35,318.50 C173.35,317.33 173.35,316.17 173.35,315.00 C173.35,313.83 173.35,312.67 173.35,311.50 C173.35,310.33 173.35,309.17 173.35,308.00 C173.35,306.83 173.35,305.67 173.35,304.50 C173.35,303.33 173.35,302.17 173.35,301.00 C173.35,299.83 173.35,298.67 173.35,297.50 C173.35,296.33 173.35,295.17 173.35,294.00 C173.35,292.83 173.33,291.67 173.35,290.50 C173.37,289.33 173.41,288.17 173.47,287.00 C173.52,285.83 173.38,285.80 173.70,283.50 C174.02,281.20 174.75,276.42 175.40,273.20 C176.05,269.98 176.78,266.97 177.60,264.20 C178.42,261.43 179.40,259.13 180.30,256.60 C181.20,254.07 182.13,251.35 183.00,249.00 C183.87,246.65 184.72,244.30 185.50,242.50 C186.28,240.70 187.08,239.25 187.70,238.20 C188.32,237.15 188.73,236.63 189.20,236.20 C189.67,235.77 189.98,235.57 190.50,235.60 C191.02,235.63 191.63,236.08 192.30,236.40 C192.97,236.72 193.77,237.17 194.50,237.50 C195.23,237.83 195.58,238.03 196.70,238.40 C197.82,238.77 197.85,239.23 201.20,239.70 C204.55,240.17 212.00,240.80 216.80,241.20 C221.60,241.60 221.88,241.75 230.00,242.10 C238.12,242.45 259.58,243.10 265.50,243.30" fill="none" stroke="#6a6a6a" stroke-width="0.75"/><path d="M173.35,359.30 C173.35,358.80 173.35,357.38 173.35,356.30 C173.35,355.22 173.35,353.97 173.35,352.80 C173.35,351.63 173.35,350.47 173.35,349.30 C173.35,348.13 173.35,346.97 173.35,345.80 C173.35,344.63 173.35,343.47 173.35,342.30 C173.35,341.13 173.35,339.97 173.35,338.80 C173.35,337.63 173.35,336.47 173.35,335.30 C173.35,334.13 173.35,332.97 173.35,331.80 C173.35,330.63 173.35,329.47 173.35,328.30 C173.35,327.13 173.35,325.97 173.35,324.80 C173.35,323.63 173.35,322.47 173.35,321.30 C173.35,320.13 173.35,318.97 173.35,317.80 C173.35,316.63 173.35,315.47 173.35,314.30 C173.35,313.13 173.35,311.97 173.35,310.80 C173.35,309.63 173.35,308.47 173.35,307.30 C173.35,306.13 173.35,304.97 173.35,303.80 C173.35,302.63 173.35,301.47 173.35,300.30 C173.35,299.13 173.35,297.97 173.35,296.80 C173.35,295.63 173.35,294.47 173.35,293.30 C173.35,292.13 173.34,290.97 173.35,289.80 C173.36,288.63 173.35,287.47 173.39,286.30 C173.44,285.13 173.30,285.10 173.60,282.80 C173.90,280.50 174.60,275.73 175.20,272.50 C175.80,269.27 176.43,266.22 177.20,263.40 C177.97,260.58 178.93,258.20 179.80,255.60 C180.67,253.00 181.53,250.08 182.40,247.80 C183.27,245.52 184.23,243.62 185.00,241.90 C185.77,240.18 186.45,239.48 187.00,237.50 C187.55,235.52 187.88,233.15 188.30,230.00 C188.72,226.85 189.05,218.82 189.50,218.60 C189.95,218.38 190.35,225.85 191.00,228.70 C191.65,231.55 192.48,234.07 193.40,235.70 C194.32,237.33 195.20,237.80 196.50,238.50 C197.80,239.20 197.82,239.42 201.20,239.90 C204.58,240.38 212.00,241.00 216.80,241.40 C221.60,241.80 221.88,241.97 230.00,242.30 C238.12,242.63 259.58,243.22 265.50,243.40" fill="none" stroke="#262626" stroke-width="0.85" stroke-dasharray="4.2,2.6"/><path d="M173.35,359.30 C173.35,358.83 173.35,357.55 173.35,356.50 C173.35,355.45 173.35,354.17 173.35,353.00 C173.35,351.83 173.35,350.67 173.35,349.50 C173.35,348.33 173.35,347.17 173.35,346.00 C173.35,344.83 173.35,343.67 173.35,342.50 C173.35,341.33 173.35,340.17 173.35,339.00 C173.35,337.83 173.35,336.67 173.35,335.50 C173.35,334.33 173.35,333.17 173.35,332.00 C173.35,330.83 173.35,329.67 173.35,328.50 C173.35,327.33 173.35,326.17 173.35,325.00 C173.35,323.83 173.35,322.67 173.35,321.50 C173.35,320.33 173.35,319.17 173.35,318.00 C173.35,316.83 173.35,315.67 173.35,314.50 C173.35,313.33 173.35,312.17 173.35,311.00 C173.35,309.83 173.35,308.67 173.35,307.50 C173.35,306.33 173.35,305.17 173.35,304.00 C173.35,302.83 173.35,301.67 173.35,300.50 C173.35,299.33 173.35,298.17 173.35,297.00 C173.35,295.83 173.35,294.67 173.35,293.50 C173.35,292.33 173.34,291.17 173.35,290.00 C173.36,288.83 173.35,287.67 173.39,286.50 C173.44,285.33 173.30,285.30 173.60,283.00 C173.90,280.70 174.60,275.93 175.20,272.70 C175.80,269.47 176.43,266.42 177.20,263.60 C177.97,260.78 178.93,258.40 179.80,255.80 C180.67,253.20 181.53,250.28 182.40,248.00 C183.27,245.72 184.25,243.62 185.00,242.10 C185.75,240.58 186.37,239.55 186.90,238.90 C187.43,238.25 187.68,238.23 188.20,238.20 C188.72,238.17 189.13,238.42 190.00,238.70 C190.87,238.98 191.53,239.62 193.40,239.90 C195.27,240.18 197.30,240.12 201.20,240.40 C205.10,240.68 212.00,241.27 216.80,241.60 C221.60,241.93 221.88,242.10 230.00,242.40 C238.12,242.70 259.58,243.23 265.50,243.40" fill="none" stroke="#1a1a1a" stroke-width="0.95"/></g>
<rect x="172.90" y="213.50" width="92.10" height="144.80" stroke="#6e6e6e" stroke-width="0.85" fill="none"/>
<path d="M172.90,358.30v-1.50 M172.90,213.50v1.50 M218.95,358.30v-1.50 M218.95,213.50v1.50 M265.00,358.30v-1.50 M265.00,213.50v1.50 M172.90,358.04h1.50 M265.00,358.04h-1.50 M172.90,321.88h1.50 M265.00,321.88h-1.50 M172.90,285.72h1.50 M265.00,285.72h-1.50 M172.90,249.56h1.50 M265.00,249.56h-1.50 M172.90,213.40h1.50 M265.00,213.40h-1.50 M172.90,352.60h0.90 M265.00,352.60h-0.90 M172.90,349.41h0.90 M265.00,349.41h-0.90 M172.90,347.15h0.90 M265.00,347.15h-0.90 M172.90,345.40h0.90 M265.00,345.40h-0.90 M172.90,343.97h0.90 M265.00,343.97h-0.90 M172.90,342.76h0.90 M265.00,342.76h-0.90 M172.90,341.71h0.90 M265.00,341.71h-0.90 M172.90,340.79h0.90 M265.00,340.79h-0.90 M172.90,339.96h0.90 M265.00,339.96h-0.90 M172.90,334.52h0.90 M265.00,334.52h-0.90 M172.90,331.33h0.90 M265.00,331.33h-0.90 M172.90,329.07h0.90 M265.00,329.07h-0.90 M172.90,327.32h0.90 M265.00,327.32h-0.90 M172.90,325.89h0.90 M265.00,325.89h-0.90 M172.90,324.68h0.90 M265.00,324.68h-0.90 M172.90,323.63h0.90 M265.00,323.63h-0.90 M172.90,322.71h0.90 M265.00,322.71h-0.90 M172.90,316.44h0.90 M265.00,316.44h-0.90 M172.90,313.25h0.90 M265.00,313.25h-0.90 M172.90,310.99h0.90 M265.00,310.99h-0.90 M172.90,309.24h0.90 M265.00,309.24h-0.90 M172.90,307.81h0.90 M265.00,307.81h-0.90 M172.90,306.60h0.90 M265.00,306.60h-0.90 M172.90,305.55h0.90 M265.00,305.55h-0.90 M172.90,304.63h0.90 M265.00,304.63h-0.90 M172.90,303.80h0.90 M265.00,303.80h-0.90 M172.90,298.36h0.90 M265.00,298.36h-0.90 M172.90,295.17h0.90 M265.00,295.17h-0.90 M172.90,292.91h0.90 M265.00,292.91h-0.90 M172.90,291.16h0.90 M265.00,291.16h-0.90 M172.90,289.73h0.90 M265.00,289.73h-0.90 M172.90,288.52h0.90 M265.00,288.52h-0.90 M172.90,287.47h0.90 M265.00,287.47h-0.90 M172.90,286.55h0.90 M265.00,286.55h-0.90 M172.90,280.28h0.90 M265.00,280.28h-0.90 M172.90,277.09h0.90 M265.00,277.09h-0.90 M172.90,274.83h0.90 M265.00,274.83h-0.90 M172.90,273.08h0.90 M265.00,273.08h-0.90 M172.90,271.65h0.90 M265.00,271.65h-0.90 M172.90,270.44h0.90 M265.00,270.44h-0.90 M172.90,269.39h0.90 M265.00,269.39h-0.90 M172.90,268.47h0.90 M265.00,268.47h-0.90 M172.90,267.64h0.90 M265.00,267.64h-0.90 M172.90,262.20h0.90 M265.00,262.20h-0.90 M172.90,259.01h0.90 M265.00,259.01h-0.90 M172.90,256.75h0.90 M265.00,256.75h-0.90 M172.90,255.00h0.90 M265.00,255.00h-0.90 M172.90,253.57h0.90 M265.00,253.57h-0.90 M172.90,252.36h0.90 M265.00,252.36h-0.90 M172.90,251.31h0.90 M265.00,251.31h-0.90 M172.90,250.39h0.90 M265.00,250.39h-0.90 M172.90,244.12h0.90 M265.00,244.12h-0.90 M172.90,240.93h0.90 M265.00,240.93h-0.90 M172.90,238.67h0.90 M265.00,238.67h-0.90 M172.90,236.92h0.90 M265.00,236.92h-0.90 M172.90,235.49h0.90 M265.00,235.49h-0.90 M172.90,234.28h0.90 M265.00,234.28h-0.90 M172.90,233.23h0.90 M265.00,233.23h-0.90 M172.90,232.31h0.90 M265.00,232.31h-0.90 M172.90,231.48h0.90 M265.00,231.48h-0.90 M172.90,226.04h0.90 M265.00,226.04h-0.90 M172.90,222.85h0.90 M265.00,222.85h-0.90 M172.90,220.59h0.90 M265.00,220.59h-0.90 M172.90,218.84h0.90 M265.00,218.84h-0.90 M172.90,217.41h0.90 M265.00,217.41h-0.90 M172.90,216.20h0.90 M265.00,216.20h-0.90 M172.90,215.15h0.90 M265.00,215.15h-0.90 M172.90,214.23h0.90 M265.00,214.23h-0.90" stroke="#333" stroke-width="0.6" fill="none"/>
<text x="172.90" y="370.25" text-anchor="middle" font-size="8.90">0</text>
<text x="218.95" y="370.25" text-anchor="middle" font-size="8.90">5</text>
<text x="265.00" y="370.25" text-anchor="middle" font-size="8.90">10</text>
<text x="169.50" y="362.89" text-anchor="end" font-size="8.90">10<tspan font-size="6.40" dy="-4.8">-8</tspan></text>
<text x="169.50" y="326.73" text-anchor="end" font-size="8.90">10<tspan font-size="6.40" dy="-4.8">-6</tspan></text>
<text x="169.50" y="290.57" text-anchor="end" font-size="8.90">10<tspan font-size="6.40" dy="-4.8">-4</tspan></text>
<text x="169.50" y="254.41" text-anchor="end" font-size="8.90">10<tspan font-size="6.40" dy="-4.8">-2</tspan></text>
<text x="169.50" y="218.25" text-anchor="end" font-size="8.90">10<tspan font-size="6.40" dy="-4.8">0</tspan></text>
<text x="218.95" y="209.20" text-anchor="middle" font-size="8.90">Mode 7</text>
<text x="218.95" y="382.80" text-anchor="middle" font-size="8.90">Frequency (Hz)</text>
<text transform="translate(145.40,285.90) rotate(-90)" text-anchor="middle" font-size="8.90">Z<tspan font-size="6.80" dy="3.6">r</tspan><tspan dy="-3.6">(</tspan><tspan font-size="7.6">ω</tspan>)/X<tspan font-size="6.80" dy="3.6">g</tspan><tspan dy="-3.6">(</tspan><tspan font-size="7.6">ω</tspan>)</text>
<g><line x1="311.30" x2="403.40" y1="344.10" y2="344.10" stroke="#a8a8a8" stroke-width="0.5" stroke-dasharray="0.6,1.7"/><line x1="311.30" x2="403.40" y1="329.55" y2="329.55" stroke="#a8a8a8" stroke-width="0.5" stroke-dasharray="0.6,1.7"/><line x1="311.30" x2="403.40" y1="315.00" y2="315.00" stroke="#a8a8a8" stroke-width="0.5" stroke-dasharray="0.6,1.7"/><line x1="311.30" x2="403.40" y1="300.45" y2="300.45" stroke="#a8a8a8" stroke-width="0.5" stroke-dasharray="0.6,1.7"/><line x1="311.30" x2="403.40" y1="271.35" y2="271.35" stroke="#a8a8a8" stroke-width="0.5" stroke-dasharray="0.6,1.7"/><line x1="311.30" x2="403.40" y1="256.80" y2="256.80" stroke="#a8a8a8" stroke-width="0.5" stroke-dasharray="0.6,1.7"/><line x1="311.30" x2="403.40" y1="242.25" y2="242.25" stroke="#a8a8a8" stroke-width="0.5" stroke-dasharray="0.6,1.7"/><line x1="311.30" x2="403.40" y1="227.70" y2="227.70" stroke="#a8a8a8" stroke-width="0.5" stroke-dasharray="0.6,1.7"/><line x1="311.30" x2="403.40" y1="285.90" y2="285.90" stroke="#e6e6e6" stroke-width="0.6"/><line x1="342.00" x2="342.00" y1="213.50" y2="358.30" stroke="#e6e6e6" stroke-width="0.6"/><line x1="372.70" x2="372.70" y1="213.50" y2="358.30" stroke="#e6e6e6" stroke-width="0.6"/></g>
<g clip-path="url(#c8)"><path d="M311.75,359.30 C311.75,359.09 311.75,358.97 311.75,358.05 C311.75,357.13 311.75,355.22 311.75,353.80 C311.75,352.38 311.75,350.97 311.75,349.55 C311.75,348.13 311.75,346.72 311.75,345.30 C311.75,343.88 311.75,342.47 311.75,341.05 C311.75,339.63 311.75,338.22 311.75,336.80 C311.75,335.38 311.75,333.97 311.75,332.55 C311.75,331.13 311.75,329.72 311.75,328.30 C311.75,326.88 311.75,325.47 311.75,324.05 C311.75,322.63 311.75,321.22 311.75,319.80 C311.75,318.38 311.75,316.97 311.75,315.55 C311.75,314.13 311.75,312.72 311.75,311.30 C311.75,309.88 311.75,308.47 311.75,307.05 C311.75,305.63 311.74,304.22 311.75,302.80 C311.76,301.38 311.75,299.97 311.79,298.55 C311.84,297.13 311.92,295.72 312.00,294.30 C312.08,292.88 312.17,291.47 312.29,290.05 C312.41,288.63 312.40,287.81 312.70,285.80 C313.00,283.79 313.53,280.58 314.10,278.00 C314.67,275.42 315.42,272.55 316.10,270.30 C316.78,268.05 317.52,266.32 318.20,264.50 C318.88,262.68 319.55,260.95 320.20,259.40 C320.85,257.85 321.53,256.40 322.10,255.20 C322.67,254.00 323.18,252.93 323.60,252.20 C324.02,251.47 324.28,251.12 324.60,250.80 C324.92,250.48 325.13,250.27 325.50,250.30 C325.87,250.33 326.30,250.68 326.80,251.00 C327.30,251.32 327.73,251.80 328.50,252.20 C329.27,252.60 329.75,252.97 331.40,253.40 C333.05,253.83 335.82,254.45 338.40,254.80 C340.98,255.15 341.58,255.18 346.90,255.50 C352.22,255.82 360.78,256.37 370.30,256.70 C379.82,257.03 398.38,257.37 404.00,257.50" fill="none" stroke="#6a6a6a" stroke-width="0.75"/><path d="M311.75,359.30 C311.75,358.98 311.75,358.38 311.75,357.35 C311.75,356.32 311.75,354.52 311.75,353.10 C311.75,351.68 311.75,350.27 311.75,348.85 C311.75,347.43 311.75,346.02 311.75,344.60 C311.75,343.18 311.75,341.77 311.75,340.35 C311.75,338.93 311.75,337.52 311.75,336.10 C311.75,334.68 311.75,333.27 311.75,331.85 C311.75,330.43 311.75,329.02 311.75,327.60 C311.75,326.18 311.75,324.77 311.75,323.35 C311.75,321.93 311.75,320.52 311.75,319.10 C311.75,317.68 311.75,316.27 311.75,314.85 C311.75,313.43 311.75,312.02 311.75,310.60 C311.75,309.18 311.75,307.77 311.75,306.35 C311.75,304.93 311.75,303.52 311.75,302.10 C311.75,300.68 311.73,299.27 311.76,297.85 C311.79,296.43 311.87,295.02 311.95,293.60 C312.03,292.18 312.11,290.77 312.22,289.35 C312.33,287.93 312.32,287.11 312.60,285.10 C312.88,283.09 313.37,279.90 313.90,277.30 C314.43,274.70 315.15,271.78 315.80,269.50 C316.45,267.22 317.15,265.45 317.80,263.60 C318.45,261.75 319.05,259.92 319.70,258.40 C320.35,256.88 321.12,255.82 321.70,254.50 C322.28,253.18 322.82,252.00 323.20,250.50 C323.58,249.00 323.70,247.72 324.00,245.50 C324.30,243.28 324.70,237.62 325.00,237.20 C325.30,236.78 325.50,240.92 325.80,243.00 C326.10,245.08 326.42,248.15 326.80,249.70 C327.18,251.25 326.90,251.57 328.10,252.30 C329.30,253.03 330.87,253.58 334.00,254.10 C337.13,254.62 340.85,254.98 346.90,255.40 C352.95,255.82 360.78,256.27 370.30,256.60 C379.82,256.93 398.38,257.27 404.00,257.40" fill="none" stroke="#262626" stroke-width="0.85" stroke-dasharray="4.2,2.6"/><path d="M311.75,359.30 C311.75,359.01 311.75,358.55 311.75,357.55 C311.75,356.55 311.75,354.72 311.75,353.30 C311.75,351.88 311.75,350.47 311.75,349.05 C311.75,347.63 311.75,346.22 311.75,344.80 C311.75,343.38 311.75,341.97 311.75,340.55 C311.75,339.13 311.75,337.72 311.75,336.30 C311.75,334.88 311.75,333.47 311.75,332.05 C311.75,330.63 311.75,329.22 311.75,327.80 C311.75,326.38 311.75,324.97 311.75,323.55 C311.75,322.13 311.75,320.72 311.75,319.30 C311.75,317.88 311.75,316.47 311.75,315.05 C311.75,313.63 311.75,312.22 311.75,310.80 C311.75,309.38 311.75,307.97 311.75,306.55 C311.75,305.13 311.75,303.72 311.75,302.30 C311.75,300.88 311.73,299.47 311.76,298.05 C311.79,296.63 311.87,295.22 311.95,293.80 C312.03,292.38 312.11,290.97 312.22,289.55 C312.33,288.13 312.32,287.31 312.60,285.30 C312.88,283.29 313.37,280.10 313.90,277.50 C314.43,274.90 315.15,271.98 315.80,269.70 C316.45,267.42 317.15,265.65 317.80,263.80 C318.45,261.95 319.05,260.12 319.70,258.60 C320.35,257.08 321.05,255.88 321.70,254.70 C322.35,253.52 323.05,251.95 323.60,251.50 C324.15,251.05 323.93,251.65 325.00,252.00 C326.07,252.35 327.10,253.02 330.00,253.60 C332.90,254.18 336.57,255.00 342.40,255.50 C348.23,256.00 354.73,256.27 365.00,256.60 C375.27,256.93 397.50,257.35 404.00,257.50" fill="none" stroke="#1a1a1a" stroke-width="0.95"/></g>
<rect x="311.30" y="213.50" width="92.10" height="144.80" stroke="#6e6e6e" stroke-width="0.85" fill="none"/>
<path d="M311.30,358.30v-1.50 M311.30,213.50v1.50 M342.00,358.30v-1.50 M342.00,213.50v1.50 M372.70,358.30v-1.50 M372.70,213.50v1.50 M403.40,358.30v-1.50 M403.40,213.50v1.50 M311.30,358.65h1.50 M403.40,358.65h-1.50 M311.30,285.90h1.50 M403.40,285.90h-1.50 M311.30,213.15h1.50 M403.40,213.15h-1.50 M311.30,344.10h0.90 M403.40,344.10h-0.90 M311.30,329.55h0.90 M403.40,329.55h-0.90 M311.30,315.00h0.90 M403.40,315.00h-0.90 M311.30,300.45h0.90 M403.40,300.45h-0.90 M311.30,271.35h0.90 M403.40,271.35h-0.90 M311.30,256.80h0.90 M403.40,256.80h-0.90 M311.30,242.25h0.90 M403.40,242.25h-0.90 M311.30,227.70h0.90 M403.40,227.70h-0.90" stroke="#333" stroke-width="0.6" fill="none"/>
<text x="311.30" y="370.25" text-anchor="middle" font-size="8.90">0</text>
<text x="342.00" y="370.25" text-anchor="middle" font-size="8.90">5</text>
<text x="372.70" y="370.25" text-anchor="middle" font-size="8.90">10</text>
<text x="403.40" y="370.25" text-anchor="middle" font-size="8.90">15</text>
<text x="307.90" y="363.50" text-anchor="end" font-size="8.90">10<tspan font-size="6.40" dy="-4.8">-10</tspan></text>
<text x="307.90" y="290.75" text-anchor="end" font-size="8.90">10<tspan font-size="6.40" dy="-4.8">-5</tspan></text>
<text x="307.90" y="218.00" text-anchor="end" font-size="8.90">10<tspan font-size="6.40" dy="-4.8">0</tspan></text>
<text x="357.35" y="209.20" text-anchor="middle" font-size="8.90">Mode 8</text>
<text x="357.35" y="382.80" text-anchor="middle" font-size="8.90">Frequency (Hz)</text>
<text transform="translate(279.70,285.90) rotate(-90)" text-anchor="middle" font-size="8.90">Z<tspan font-size="6.80" dy="3.6">r</tspan><tspan dy="-3.6">(</tspan><tspan font-size="7.6">ω</tspan>)/X<tspan font-size="6.80" dy="3.6">g</tspan><tspan dy="-3.6">(</tspan><tspan font-size="7.6">ω</tspan>)</text>
<g><line x1="450.30" x2="542.40" y1="343.80" y2="343.80" stroke="#a8a8a8" stroke-width="0.5" stroke-dasharray="0.6,1.7"/><line x1="450.30" x2="542.40" y1="314.70" y2="314.70" stroke="#a8a8a8" stroke-width="0.5" stroke-dasharray="0.6,1.7"/><line x1="450.30" x2="542.40" y1="300.15" y2="300.15" stroke="#a8a8a8" stroke-width="0.5" stroke-dasharray="0.6,1.7"/><line x1="450.30" x2="542.40" y1="285.60" y2="285.60" stroke="#a8a8a8" stroke-width="0.5" stroke-dasharray="0.6,1.7"/><line x1="450.30" x2="542.40" y1="271.05" y2="271.05" stroke="#a8a8a8" stroke-width="0.5" stroke-dasharray="0.6,1.7"/><line x1="450.30" x2="542.40" y1="241.95" y2="241.95" stroke="#a8a8a8" stroke-width="0.5" stroke-dasharray="0.6,1.7"/><line x1="450.30" x2="542.40" y1="227.40" y2="227.40" stroke="#a8a8a8" stroke-width="0.5" stroke-dasharray="0.6,1.7"/><line x1="450.30" x2="542.40" y1="329.25" y2="329.25" stroke="#e6e6e6" stroke-width="0.6"/><line x1="450.30" x2="542.40" y1="256.50" y2="256.50" stroke="#e6e6e6" stroke-width="0.6"/><line x1="481.00" x2="481.00" y1="213.50" y2="358.30" stroke="#e6e6e6" stroke-width="0.6"/><line x1="511.70" x2="511.70" y1="213.50" y2="358.30" stroke="#e6e6e6" stroke-width="0.6"/></g>
<g clip-path="url(#c9)"><path d="M450.75,359.30 C450.75,358.95 450.75,358.13 450.75,357.20 C450.75,356.27 450.75,354.87 450.75,353.70 C450.75,352.53 450.75,351.37 450.75,350.20 C450.75,349.03 450.75,347.87 450.75,346.70 C450.75,345.53 450.75,344.37 450.75,343.20 C450.75,342.03 450.75,340.87 450.75,339.70 C450.75,338.53 450.75,337.37 450.75,336.20 C450.75,335.03 450.75,333.87 450.75,332.70 C450.75,331.53 450.75,330.37 450.75,329.20 C450.75,328.03 450.75,326.87 450.75,325.70 C450.75,324.53 450.75,323.37 450.75,322.20 C450.75,321.03 450.75,319.87 450.75,318.70 C450.75,317.53 450.75,316.37 450.75,315.20 C450.75,314.03 450.75,312.87 450.75,311.70 C450.75,310.53 450.75,309.37 450.75,308.20 C450.75,307.03 450.75,305.87 450.75,304.70 C450.75,303.53 450.75,302.37 450.75,301.20 C450.75,300.03 450.75,298.87 450.75,297.70 C450.75,296.53 450.73,295.37 450.75,294.20 C450.77,293.03 450.81,291.87 450.87,290.70 C450.92,289.53 450.84,289.28 451.10,287.20 C451.36,285.12 451.95,280.55 452.40,278.20 C452.85,275.85 453.12,275.02 453.80,273.10 C454.48,271.18 455.60,268.62 456.50,266.70 C457.40,264.78 458.33,263.55 459.20,261.60 C460.07,259.65 460.95,256.83 461.70,255.00 C462.45,253.17 463.10,251.87 463.70,250.60 C464.30,249.33 464.85,248.20 465.30,247.40 C465.75,246.60 466.03,246.15 466.40,245.80 C466.77,245.45 467.08,245.27 467.50,245.30 C467.92,245.33 468.42,245.70 468.90,246.00 C469.38,246.30 469.92,246.75 470.40,247.10 C470.88,247.45 471.03,247.58 471.80,248.10 C472.57,248.62 472.17,249.53 475.00,250.20 C477.83,250.87 482.62,251.60 488.80,252.10 C494.98,252.60 503.07,252.95 512.10,253.20 C521.13,253.45 537.85,253.53 543.00,253.60" fill="none" stroke="#6a6a6a" stroke-width="0.75"/><path d="M450.75,359.30 C450.75,358.85 450.75,357.63 450.75,356.60 C450.75,355.57 450.75,354.27 450.75,353.10 C450.75,351.93 450.75,350.77 450.75,349.60 C450.75,348.43 450.75,347.27 450.75,346.10 C450.75,344.93 450.75,343.77 450.75,342.60 C450.75,341.43 450.75,340.27 450.75,339.10 C450.75,337.93 450.75,336.77 450.75,335.60 C450.75,334.43 450.75,333.27 450.75,332.10 C450.75,330.93 450.75,329.77 450.75,328.60 C450.75,327.43 450.75,326.27 450.75,325.10 C450.75,323.93 450.75,322.77 450.75,321.60 C450.75,320.43 450.75,319.27 450.75,318.10 C450.75,316.93 450.75,315.77 450.75,314.60 C450.75,313.43 450.75,312.27 450.75,311.10 C450.75,309.93 450.75,308.77 450.75,307.60 C450.75,306.43 450.75,305.27 450.75,304.10 C450.75,302.93 450.75,301.77 450.75,300.60 C450.75,299.43 450.75,298.27 450.75,297.10 C450.75,295.93 450.74,294.77 450.75,293.60 C450.76,292.43 450.75,291.27 450.79,290.10 C450.84,288.93 450.77,288.70 451.00,286.60 C451.23,284.50 451.78,279.88 452.20,277.50 C452.62,275.12 452.85,274.25 453.50,272.30 C454.15,270.35 455.23,267.75 456.10,265.80 C456.97,263.85 457.83,262.55 458.70,260.60 C459.57,258.65 460.53,255.83 461.30,254.10 C462.07,252.37 462.77,251.30 463.30,250.20 C463.83,249.10 464.12,248.97 464.50,247.50 C464.88,246.03 465.23,243.78 465.60,241.40 C465.97,239.02 466.37,233.05 466.70,233.20 C467.03,233.35 467.08,239.88 467.60,242.30 C468.12,244.72 469.07,246.50 469.80,247.70 C470.53,248.90 470.63,249.02 472.00,249.50 C473.37,249.98 475.20,250.18 478.00,250.60 C480.80,251.02 483.12,251.57 488.80,252.00 C494.48,252.43 503.07,252.93 512.10,253.20 C521.13,253.47 537.85,253.53 543.00,253.60" fill="none" stroke="#262626" stroke-width="0.85" stroke-dasharray="4.2,2.6"/><path d="M450.75,359.30 C450.75,358.88 450.75,357.80 450.75,356.80 C450.75,355.80 450.75,354.47 450.75,353.30 C450.75,352.13 450.75,350.97 450.75,349.80 C450.75,348.63 450.75,347.47 450.75,346.30 C450.75,345.13 450.75,343.97 450.75,342.80 C450.75,341.63 450.75,340.47 450.75,339.30 C450.75,338.13 450.75,336.97 450.75,335.80 C450.75,334.63 450.75,333.47 450.75,332.30 C450.75,331.13 450.75,329.97 450.75,328.80 C450.75,327.63 450.75,326.47 450.75,325.30 C450.75,324.13 450.75,322.97 450.75,321.80 C450.75,320.63 450.75,319.47 450.75,318.30 C450.75,317.13 450.75,315.97 450.75,314.80 C450.75,313.63 450.75,312.47 450.75,311.30 C450.75,310.13 450.75,308.97 450.75,307.80 C450.75,306.63 450.75,305.47 450.75,304.30 C450.75,303.13 450.75,301.97 450.75,300.80 C450.75,299.63 450.75,298.47 450.75,297.30 C450.75,296.13 450.74,294.97 450.75,293.80 C450.76,292.63 450.75,291.47 450.79,290.30 C450.84,289.13 450.77,288.90 451.00,286.80 C451.23,284.70 451.78,280.08 452.20,277.70 C452.62,275.32 452.85,274.45 453.50,272.50 C454.15,270.55 455.23,267.95 456.10,266.00 C456.97,264.05 457.83,262.75 458.70,260.80 C459.57,258.85 460.53,256.03 461.30,254.30 C462.07,252.57 462.75,251.42 463.30,250.40 C463.85,249.38 464.15,248.50 464.60,248.20 C465.05,247.90 465.07,248.27 466.00,248.60 C466.93,248.93 468.47,249.80 470.20,250.20 C471.93,250.60 473.30,250.70 476.40,251.00 C479.50,251.30 482.85,251.63 488.80,252.00 C494.75,252.37 503.07,252.93 512.10,253.20 C521.13,253.47 537.85,253.53 543.00,253.60" fill="none" stroke="#1a1a1a" stroke-width="0.95"/></g>
<rect x="450.30" y="213.50" width="92.10" height="144.80" stroke="#6e6e6e" stroke-width="0.85" fill="none"/>
<path d="M450.30,358.30v-1.50 M450.30,213.50v1.50 M481.00,358.30v-1.50 M481.00,213.50v1.50 M511.70,358.30v-1.50 M511.70,213.50v1.50 M542.40,358.30v-1.50 M542.40,213.50v1.50 M450.30,329.25h1.50 M542.40,329.25h-1.50 M450.30,256.50h1.50 M542.40,256.50h-1.50 M450.30,343.80h0.90 M542.40,343.80h-0.90 M450.30,314.70h0.90 M542.40,314.70h-0.90 M450.30,300.15h0.90 M542.40,300.15h-0.90 M450.30,285.60h0.90 M542.40,285.60h-0.90 M450.30,271.05h0.90 M542.40,271.05h-0.90 M450.30,241.95h0.90 M542.40,241.95h-0.90 M450.30,227.40h0.90 M542.40,227.40h-0.90" stroke="#333" stroke-width="0.6" fill="none"/>
<text x="450.30" y="370.25" text-anchor="middle" font-size="8.90">0</text>
<text x="481.00" y="370.25" text-anchor="middle" font-size="8.90">5</text>
<text x="511.70" y="370.25" text-anchor="middle" font-size="8.90">10</text>
<text x="542.40" y="370.25" text-anchor="middle" font-size="8.90">15</text>
<text x="446.90" y="334.10" text-anchor="end" font-size="8.90">10<tspan font-size="6.40" dy="-4.8">-10</tspan></text>
<text x="446.90" y="261.35" text-anchor="end" font-size="8.90">10<tspan font-size="6.40" dy="-4.8">-5</tspan></text>
<text x="496.35" y="209.20" text-anchor="middle" font-size="8.90">Mode 9</text>
<text x="496.35" y="382.80" text-anchor="middle" font-size="8.90">Frequency (Hz)</text>
<text transform="translate(418.70,285.90) rotate(-90)" text-anchor="middle" font-size="8.90">Z<tspan font-size="6.80" dy="3.6">r</tspan><tspan dy="-3.6">(</tspan><tspan font-size="7.6">ω</tspan>)/X<tspan font-size="6.80" dy="3.6">g</tspan><tspan dy="-3.6">(</tspan><tspan font-size="7.6">ω</tspan>)</text>
<g><line x1="588.50" x2="680.60" y1="329.10" y2="329.10" stroke="#a8a8a8" stroke-width="0.5" stroke-dasharray="0.6,1.7"/><line x1="588.50" x2="680.60" y1="314.60" y2="314.60" stroke="#a8a8a8" stroke-width="0.5" stroke-dasharray="0.6,1.7"/><line x1="588.50" x2="680.60" y1="300.10" y2="300.10" stroke="#a8a8a8" stroke-width="0.5" stroke-dasharray="0.6,1.7"/><line x1="588.50" x2="680.60" y1="285.60" y2="285.60" stroke="#a8a8a8" stroke-width="0.5" stroke-dasharray="0.6,1.7"/><line x1="588.50" x2="680.60" y1="256.60" y2="256.60" stroke="#a8a8a8" stroke-width="0.5" stroke-dasharray="0.6,1.7"/><line x1="588.50" x2="680.60" y1="242.10" y2="242.10" stroke="#a8a8a8" stroke-width="0.5" stroke-dasharray="0.6,1.7"/><line x1="588.50" x2="680.60" y1="227.60" y2="227.60" stroke="#a8a8a8" stroke-width="0.5" stroke-dasharray="0.6,1.7"/><line x1="588.50" x2="680.60" y1="343.60" y2="343.60" stroke="#e6e6e6" stroke-width="0.6"/><line x1="588.50" x2="680.60" y1="271.10" y2="271.10" stroke="#e6e6e6" stroke-width="0.6"/><line x1="619.20" x2="619.20" y1="213.50" y2="358.30" stroke="#e6e6e6" stroke-width="0.6"/><line x1="649.90" x2="649.90" y1="213.50" y2="358.30" stroke="#e6e6e6" stroke-width="0.6"/></g>
<g clip-path="url(#c10)"><path d="M588.95,359.30 C588.95,358.95 588.95,357.97 588.95,357.20 C588.95,356.43 588.95,355.53 588.95,354.70 C588.95,353.87 588.95,353.03 588.95,352.20 C588.95,351.37 588.95,350.53 588.95,349.70 C588.95,348.87 588.95,348.03 588.95,347.20 C588.95,346.37 588.95,345.53 588.95,344.70 C588.95,343.87 588.95,343.03 588.95,342.20 C588.95,341.37 588.95,340.53 588.95,339.70 C588.95,338.87 588.95,338.03 588.95,337.20 C588.95,336.37 588.95,335.53 588.95,334.70 C588.95,333.87 588.95,333.03 588.95,332.20 C588.95,331.37 588.95,330.53 588.95,329.70 C588.95,328.87 588.95,328.03 588.95,327.20 C588.95,326.37 588.95,325.53 588.95,324.70 C588.95,323.87 588.95,323.03 588.95,322.20 C588.95,321.37 588.95,320.53 588.95,319.70 C588.95,318.87 588.95,318.03 588.95,317.20 C588.95,316.37 588.95,315.53 588.95,314.70 C588.95,313.87 588.95,313.03 588.95,312.20 C588.95,311.37 588.95,310.53 588.95,309.70 C588.95,308.87 588.95,308.03 588.95,307.20 C588.95,306.37 588.95,305.53 588.95,304.70 C588.95,303.87 588.95,303.03 588.95,302.20 C588.95,301.37 588.95,300.53 588.95,299.70 C588.95,298.87 588.95,298.03 588.95,297.20 C588.95,296.37 588.95,295.53 588.95,294.70 C588.95,293.87 588.95,293.03 588.95,292.20 C588.95,291.37 588.95,290.53 588.95,289.70 C588.95,288.87 588.95,288.03 588.95,287.20 C588.95,286.37 588.95,285.53 588.95,284.70 C588.95,283.87 588.95,283.03 588.95,282.20 C588.95,281.37 588.95,280.53 588.95,279.70 C588.95,278.87 588.92,278.03 588.95,277.20 C588.98,276.37 589.06,275.53 589.14,274.70 C589.21,273.87 589.21,273.40 589.40,272.20 C589.59,271.00 589.87,269.17 590.30,267.50 C590.73,265.83 591.30,263.98 592.00,262.20 C592.70,260.42 593.53,258.58 594.50,256.80 C595.47,255.02 596.62,253.33 597.80,251.50 C598.98,249.67 600.37,247.68 601.60,245.80 C602.83,243.92 604.17,241.90 605.20,240.20 C606.23,238.50 607.07,236.80 607.80,235.60 C608.53,234.40 609.12,233.63 609.60,233.00 C610.08,232.37 610.35,232.07 610.70,231.80 C611.05,231.53 611.33,231.35 611.70,231.40 C612.07,231.45 612.43,231.73 612.90,232.10 C613.37,232.47 613.95,233.10 614.50,233.60 C615.05,234.10 615.65,234.68 616.20,235.10 C616.75,235.52 616.92,235.68 617.80,236.10 C618.68,236.52 619.35,237.02 621.50,237.60 C623.65,238.18 625.28,239.13 630.70,239.60 C636.12,240.07 645.62,240.22 654.00,240.40 C662.38,240.58 676.50,240.65 681.00,240.70" fill="none" stroke="#6a6a6a" stroke-width="0.75"/><path d="M588.95,359.30 C588.95,358.84 588.95,357.43 588.95,356.55 C588.95,355.68 588.95,354.88 588.95,354.05 C588.95,353.22 588.95,352.38 588.95,351.55 C588.95,350.72 588.95,349.88 588.95,349.05 C588.95,348.22 588.95,347.38 588.95,346.55 C588.95,345.72 588.95,344.88 588.95,344.05 C588.95,343.22 588.95,342.38 588.95,341.55 C588.95,340.72 588.95,339.88 588.95,339.05 C588.95,338.22 588.95,337.38 588.95,336.55 C588.95,335.72 588.95,334.88 588.95,334.05 C588.95,333.22 588.95,332.38 588.95,331.55 C588.95,330.72 588.95,329.88 588.95,329.05 C588.95,328.22 588.95,327.38 588.95,326.55 C588.95,325.72 588.95,324.88 588.95,324.05 C588.95,323.22 588.95,322.38 588.95,321.55 C588.95,320.72 588.95,319.88 588.95,319.05 C588.95,318.22 588.95,317.38 588.95,316.55 C588.95,315.72 588.95,314.88 588.95,314.05 C588.95,313.22 588.95,312.38 588.95,311.55 C588.95,310.72 588.95,309.88 588.95,309.05 C588.95,308.22 588.95,307.38 588.95,306.55 C588.95,305.72 588.95,304.88 588.95,304.05 C588.95,303.22 588.95,302.38 588.95,301.55 C588.95,300.72 588.95,299.88 588.95,299.05 C588.95,298.22 588.95,297.38 588.95,296.55 C588.95,295.72 588.95,294.88 588.95,294.05 C588.95,293.22 588.95,292.38 588.95,291.55 C588.95,290.72 588.95,289.88 588.95,289.05 C588.95,288.22 588.95,287.38 588.95,286.55 C588.95,285.72 588.95,284.88 588.95,284.05 C588.95,283.22 588.95,282.38 588.95,281.55 C588.95,280.72 588.95,279.88 588.95,279.05 C588.95,278.22 588.93,277.38 588.95,276.55 C588.97,275.72 589.01,274.88 589.07,274.05 C589.12,273.22 589.13,272.76 589.30,271.55 C589.47,270.34 589.70,268.49 590.10,266.80 C590.50,265.11 591.05,263.22 591.70,261.40 C592.35,259.58 593.08,257.72 594.00,255.90 C594.92,254.08 596.02,252.32 597.20,250.50 C598.38,248.68 599.80,246.83 601.10,245.00 C602.40,243.17 603.85,241.25 605.00,239.50 C606.15,237.75 607.17,235.98 608.00,234.50 C608.83,233.02 609.43,232.88 610.00,230.60 C610.57,228.32 610.95,220.68 611.40,220.80 C611.85,220.92 612.07,228.80 612.70,231.30 C613.33,233.80 614.32,234.82 615.20,235.80 C616.08,236.78 615.42,236.58 618.00,237.20 C620.58,237.82 624.70,238.98 630.70,239.50 C636.70,240.02 645.62,240.10 654.00,240.30 C662.38,240.50 676.50,240.63 681.00,240.70" fill="none" stroke="#262626" stroke-width="0.85" stroke-dasharray="4.2,2.6"/><path d="M588.95,359.30 C588.95,358.88 588.95,357.59 588.95,356.75 C588.95,355.91 588.95,355.08 588.95,354.25 C588.95,353.42 588.95,352.58 588.95,351.75 C588.95,350.92 588.95,350.08 588.95,349.25 C588.95,348.42 588.95,347.58 588.95,346.75 C588.95,345.92 588.95,345.08 588.95,344.25 C588.95,343.42 588.95,342.58 588.95,341.75 C588.95,340.92 588.95,340.08 588.95,339.25 C588.95,338.42 588.95,337.58 588.95,336.75 C588.95,335.92 588.95,335.08 588.95,334.25 C588.95,333.42 588.95,332.58 588.95,331.75 C588.95,330.92 588.95,330.08 588.95,329.25 C588.95,328.42 588.95,327.58 588.95,326.75 C588.95,325.92 588.95,325.08 588.95,324.25 C588.95,323.42 588.95,322.58 588.95,321.75 C588.95,320.92 588.95,320.08 588.95,319.25 C588.95,318.42 588.95,317.58 588.95,316.75 C588.95,315.92 588.95,315.08 588.95,314.25 C588.95,313.42 588.95,312.58 588.95,311.75 C588.95,310.92 588.95,310.08 588.95,309.25 C588.95,308.42 588.95,307.58 588.95,306.75 C588.95,305.92 588.95,305.08 588.95,304.25 C588.95,303.42 588.95,302.58 588.95,301.75 C588.95,300.92 588.95,300.08 588.95,299.25 C588.95,298.42 588.95,297.58 588.95,296.75 C588.95,295.92 588.95,295.08 588.95,294.25 C588.95,293.42 588.95,292.58 588.95,291.75 C588.95,290.92 588.95,290.08 588.95,289.25 C588.95,288.42 588.95,287.58 588.95,286.75 C588.95,285.92 588.95,285.08 588.95,284.25 C588.95,283.42 588.95,282.58 588.95,281.75 C588.95,280.92 588.95,280.08 588.95,279.25 C588.95,278.42 588.93,277.58 588.95,276.75 C588.97,275.92 589.01,275.08 589.07,274.25 C589.12,273.42 589.13,272.96 589.30,271.75 C589.47,270.54 589.70,268.69 590.10,267.00 C590.50,265.31 591.05,263.42 591.70,261.60 C592.35,259.78 593.08,257.92 594.00,256.10 C594.92,254.28 596.02,252.52 597.20,250.70 C598.38,248.88 599.80,247.03 601.10,245.20 C602.40,243.37 603.92,241.30 605.00,239.70 C606.08,238.10 607.00,236.40 607.60,235.60 C608.20,234.80 608.12,234.98 608.60,234.90 C609.08,234.82 609.73,234.95 610.50,235.10 C611.27,235.25 611.37,235.35 613.20,235.80 C615.03,236.25 618.58,237.18 621.50,237.80 C624.42,238.42 625.28,239.07 630.70,239.50 C636.12,239.93 645.62,240.20 654.00,240.40 C662.38,240.60 676.50,240.65 681.00,240.70" fill="none" stroke="#1a1a1a" stroke-width="0.95"/></g>
<rect x="588.50" y="213.50" width="92.10" height="144.80" stroke="#6e6e6e" stroke-width="0.85" fill="none"/>
<path d="M588.50,358.30v-1.50 M588.50,213.50v1.50 M619.20,358.30v-1.50 M619.20,213.50v1.50 M649.90,358.30v-1.50 M649.90,213.50v1.50 M680.60,358.30v-1.50 M680.60,213.50v1.50 M588.50,343.60h1.50 M680.60,343.60h-1.50 M588.50,271.10h1.50 M680.60,271.10h-1.50 M588.50,329.10h0.90 M680.60,329.10h-0.90 M588.50,314.60h0.90 M680.60,314.60h-0.90 M588.50,300.10h0.90 M680.60,300.10h-0.90 M588.50,285.60h0.90 M680.60,285.60h-0.90 M588.50,256.60h0.90 M680.60,256.60h-0.90 M588.50,242.10h0.90 M680.60,242.10h-0.90 M588.50,227.60h0.90 M680.60,227.60h-0.90" stroke="#333" stroke-width="0.6" fill="none"/>
<text x="588.50" y="370.25" text-anchor="middle" font-size="8.90">0</text>
<text x="619.20" y="370.25" text-anchor="middle" font-size="8.90">5</text>
<text x="649.90" y="370.25" text-anchor="middle" font-size="8.90">10</text>
<text x="680.60" y="370.25" text-anchor="middle" font-size="8.90">15</text>
<text x="585.10" y="348.45" text-anchor="end" font-size="8.90">10<tspan font-size="6.40" dy="-4.8">-15</tspan></text>
<text x="585.10" y="275.95" text-anchor="end" font-size="8.90">10<tspan font-size="6.40" dy="-4.8">-10</tspan></text>
<text x="634.55" y="209.20" text-anchor="middle" font-size="8.90">Mode 10</text>
<text x="634.55" y="382.80" text-anchor="middle" font-size="8.90">Frequency (Hz)</text>
<text transform="translate(556.90,285.90) rotate(-90)" text-anchor="middle" font-size="8.90">Z<tspan font-size="6.80" dy="3.6">r</tspan><tspan dy="-3.6">(</tspan><tspan font-size="7.6">ω</tspan>)/X<tspan font-size="6.80" dy="3.6">g</tspan><tspan dy="-3.6">(</tspan><tspan font-size="7.6">ω</tspan>)</text>
<g><path d="M50.1,101.60 H67.7" fill="none" stroke="#1a1a1a" stroke-width="0.95"/><text x="69.8" y="104.70" font-size="8.90">LFA</text><path d="M50.1,113.40 H67.7" fill="none" stroke="#6a6a6a" stroke-width="0.75"/><text x="69.8" y="116.50" font-size="8.90">LQG</text><path d="M50.1,125.30 H67.7" fill="none" stroke="#262626" stroke-width="0.85" stroke-dasharray="4.2,2.6"/><text x="69.8" y="128.40" font-size="8.90">uncontrolled</text></g>
</svg></body></html>
